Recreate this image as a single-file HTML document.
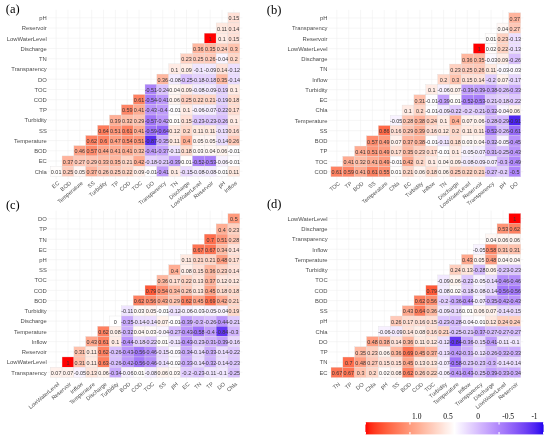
<!DOCTYPE html>
<html><head><meta charset="utf-8"><title>Correlation matrices</title>
<style>
html,body{margin:0;padding:0;background:#fff;}
body{width:550px;height:441px;overflow:hidden;}
svg{display:block;will-change:transform;}
.ct text{font-family:"Liberation Sans",sans-serif;font-size:5.45px;fill:#363636;text-anchor:middle;}
.yl text{font-family:"Liberation Sans",sans-serif;font-size:5.85px;fill:#4d4d4d;text-anchor:end;}
.xl text{font-family:"Liberation Sans",sans-serif;font-size:5.55px;fill:#4d4d4d;text-anchor:end;}
.lt{font-family:"Liberation Serif",serif;font-size:12.5px;fill:#000;}
.lg{font-family:"Liberation Serif",serif;font-size:7.5px;fill:#000;text-anchor:middle;}
</style></head>
<body><svg width="550" height="441" viewBox="0 0 550 441">
<rect width="550" height="441" fill="#fff"/>
<path d="M56.12 9.80V179.28M47.60 17.81H242.40M67.97 9.80V179.28M47.60 28.05H242.40M79.83 9.80V179.28M47.60 38.28H242.40M91.68 9.80V179.28M47.60 48.50H242.40M103.53 9.80V179.28M47.60 58.73H242.40M115.38 9.80V179.28M47.60 68.97H242.40M127.22 9.80V179.28M47.60 79.20H242.40M139.07 9.80V179.28M47.60 89.43H242.40M150.93 9.80V179.28M47.60 99.66H242.40M162.78 9.80V179.28M47.60 109.89H242.40M174.62 9.80V179.28M47.60 120.12H242.40M186.48 9.80V179.28M47.60 130.34H242.40M198.32 9.80V179.28M47.60 140.57H242.40M210.18 9.80V179.28M47.60 150.81H242.40M222.02 9.80V179.28M47.60 161.03H242.40M233.88 9.80V179.28M47.60 171.26H242.40" stroke="#efefef" stroke-width="0.55" fill="none"/>
<g stroke="#dcdcdc" stroke-width="0.3"><rect x="227.95" y="12.70" width="11.85" height="10.23" fill="#ffe0d6"/><rect x="216.10" y="22.93" width="11.85" height="10.23" fill="#ffe9e0"/><rect x="227.95" y="22.93" width="11.85" height="10.23" fill="#ffe2d9"/><rect x="204.25" y="33.16" width="11.85" height="10.23" fill="#ff0000"/><rect x="216.10" y="33.16" width="11.85" height="10.23" fill="#ffebe4"/><rect x="227.95" y="33.16" width="11.85" height="10.23" fill="#ffe0d6"/><rect x="192.40" y="43.39" width="11.85" height="10.23" fill="#ffb79f"/><rect x="204.25" y="43.39" width="11.85" height="10.23" fill="#ffb9a2"/><rect x="216.10" y="43.39" width="11.85" height="10.23" fill="#ffcfbe"/><rect x="227.95" y="43.39" width="11.85" height="10.23" fill="#ffc3ae"/><rect x="180.55" y="53.62" width="11.85" height="10.23" fill="#ffd1c1"/><rect x="192.40" y="53.62" width="11.85" height="10.23" fill="#ffccbc"/><rect x="204.25" y="53.62" width="11.85" height="10.23" fill="#ffcab9"/><rect x="216.10" y="53.62" width="11.85" height="10.23" fill="#faf4ff"/><rect x="227.95" y="53.62" width="11.85" height="10.23" fill="#ffd7c8"/><rect x="168.70" y="63.85" width="11.85" height="10.23" fill="#ffebe4"/><rect x="180.55" y="63.85" width="11.85" height="10.23" fill="#ffede7"/><rect x="192.40" y="63.85" width="11.85" height="10.23" fill="#f0e6ff"/><rect x="204.25" y="63.85" width="11.85" height="10.23" fill="#f2e9ff"/><rect x="216.10" y="63.85" width="11.85" height="10.23" fill="#ffe2d9"/><rect x="227.95" y="63.85" width="11.85" height="10.23" fill="#ede0ff"/><rect x="156.85" y="74.08" width="11.85" height="10.23" fill="#ffb79f"/><rect x="168.70" y="74.08" width="11.85" height="10.23" fill="#f3ebff"/><rect x="180.55" y="74.08" width="11.85" height="10.23" fill="#d9c1fe"/><rect x="192.40" y="74.08" width="11.85" height="10.23" fill="#e5d2fe"/><rect x="204.25" y="74.08" width="11.85" height="10.23" fill="#e5d2fe"/><rect x="216.10" y="74.08" width="11.85" height="10.23" fill="#ffb9a2"/><rect x="227.95" y="74.08" width="11.85" height="10.23" fill="#eadcff"/><rect x="145.00" y="84.31" width="11.85" height="10.23" fill="#ac83fa"/><rect x="156.85" y="84.31" width="11.85" height="10.23" fill="#dbc3fe"/><rect x="168.70" y="84.31" width="11.85" height="10.23" fill="#fff7f4"/><rect x="180.55" y="84.31" width="11.85" height="10.23" fill="#ffede7"/><rect x="192.40" y="84.31" width="11.85" height="10.23" fill="#f3ebff"/><rect x="204.25" y="84.31" width="11.85" height="10.23" fill="#f2e9ff"/><rect x="216.10" y="84.31" width="11.85" height="10.23" fill="#e2d0fe"/><rect x="227.95" y="84.31" width="11.85" height="10.23" fill="#ffebe4"/><rect x="133.15" y="94.54" width="11.85" height="10.23" fill="#ff8262"/><rect x="145.00" y="94.54" width="11.85" height="10.23" fill="#a77cfa"/><rect x="156.85" y="94.54" width="11.85" height="10.23" fill="#bf9bfc"/><rect x="168.70" y="94.54" width="11.85" height="10.23" fill="#fff3ee"/><rect x="180.55" y="94.54" width="11.85" height="10.23" fill="#ffccbc"/><rect x="192.40" y="94.54" width="11.85" height="10.23" fill="#ffd3c3"/><rect x="204.25" y="94.54" width="11.85" height="10.23" fill="#ffd5c6"/><rect x="216.10" y="94.54" width="11.85" height="10.23" fill="#e2d0fe"/><rect x="227.95" y="94.54" width="11.85" height="10.23" fill="#ffdbcd"/><rect x="121.30" y="104.77" width="11.85" height="10.23" fill="#ff8667"/><rect x="133.15" y="104.77" width="11.85" height="10.23" fill="#ffac92"/><rect x="145.00" y="104.77" width="11.85" height="10.23" fill="#bb95fc"/><rect x="156.85" y="104.77" width="11.85" height="10.23" fill="#c09dfc"/><rect x="168.70" y="104.77" width="11.85" height="10.23" fill="#fefdff"/><rect x="180.55" y="104.77" width="11.85" height="10.23" fill="#ffebe4"/><rect x="192.40" y="104.77" width="11.85" height="10.23" fill="#f7f0ff"/><rect x="204.25" y="104.77" width="11.85" height="10.23" fill="#f4edff"/><rect x="216.10" y="104.77" width="11.85" height="10.23" fill="#dec8fe"/><rect x="227.95" y="104.77" width="11.85" height="10.23" fill="#ffddd1"/><rect x="109.45" y="115.00" width="11.85" height="10.23" fill="#ffb097"/><rect x="121.30" y="115.00" width="11.85" height="10.23" fill="#ffbfa9"/><rect x="133.15" y="115.00" width="11.85" height="10.23" fill="#ffc4b1"/><rect x="145.00" y="115.00" width="11.85" height="10.23" fill="#a175f9"/><rect x="156.85" y="115.00" width="11.85" height="10.23" fill="#bd98fc"/><rect x="168.70" y="115.00" width="11.85" height="10.23" fill="#fffdfc"/><rect x="180.55" y="115.00" width="11.85" height="10.23" fill="#ffe0d6"/><rect x="192.40" y="115.00" width="11.85" height="10.23" fill="#dcc6fe"/><rect x="204.25" y="115.00" width="11.85" height="10.23" fill="#dcc6fe"/><rect x="216.10" y="115.00" width="11.85" height="10.23" fill="#d8bffe"/><rect x="227.95" y="115.00" width="11.85" height="10.23" fill="#ffebe4"/><rect x="97.60" y="125.23" width="11.85" height="10.23" fill="#ff7c5b"/><rect x="109.45" y="125.23" width="11.85" height="10.23" fill="#ff977a"/><rect x="121.30" y="125.23" width="11.85" height="10.23" fill="#ff8262"/><rect x="133.15" y="125.23" width="11.85" height="10.23" fill="#ffac92"/><rect x="145.00" y="125.23" width="11.85" height="10.23" fill="#9d71f9"/><rect x="156.85" y="125.23" width="11.85" height="10.23" fill="#9265f8"/><rect x="168.70" y="125.23" width="11.85" height="10.23" fill="#ffe7de"/><rect x="180.55" y="125.23" width="11.85" height="10.23" fill="#ffd7c8"/><rect x="192.40" y="125.23" width="11.85" height="10.23" fill="#ffe9e0"/><rect x="204.25" y="125.23" width="11.85" height="10.23" fill="#ffe9e0"/><rect x="216.10" y="125.23" width="11.85" height="10.23" fill="#ecdeff"/><rect x="227.95" y="125.23" width="11.85" height="10.23" fill="#ffded4"/><rect x="85.75" y="135.46" width="11.85" height="10.23" fill="#ff8060"/><rect x="97.60" y="135.46" width="11.85" height="10.23" fill="#ff8464"/><rect x="109.45" y="135.46" width="11.85" height="10.23" fill="#ffa083"/><rect x="121.30" y="135.46" width="11.85" height="10.23" fill="#ff9173"/><rect x="133.15" y="135.46" width="11.85" height="10.23" fill="#ff977a"/><rect x="145.00" y="135.46" width="11.85" height="10.23" fill="#5a2ef2"/><rect x="156.85" y="135.46" width="11.85" height="10.23" fill="#c9a9fd"/><rect x="168.70" y="135.46" width="11.85" height="10.23" fill="#ffe9e0"/><rect x="180.55" y="135.46" width="11.85" height="10.23" fill="#ffae94"/><rect x="192.40" y="135.46" width="11.85" height="10.23" fill="#fff4f1"/><rect x="204.25" y="135.46" width="11.85" height="10.23" fill="#fff4f1"/><rect x="216.10" y="135.46" width="11.85" height="10.23" fill="#eadcff"/><rect x="227.95" y="135.46" width="11.85" height="10.23" fill="#ffcab9"/><rect x="73.90" y="145.69" width="11.85" height="10.23" fill="#ffa286"/><rect x="85.75" y="145.69" width="11.85" height="10.23" fill="#ff8b6c"/><rect x="97.60" y="145.69" width="11.85" height="10.23" fill="#ffa68b"/><rect x="109.45" y="145.69" width="11.85" height="10.23" fill="#ffac92"/><rect x="121.30" y="145.69" width="11.85" height="10.23" fill="#ffac92"/><rect x="133.15" y="145.69" width="11.85" height="10.23" fill="#ffbfa9"/><rect x="145.00" y="145.69" width="11.85" height="10.23" fill="#bf9bfc"/><rect x="156.85" y="145.69" width="11.85" height="10.23" fill="#c5a4fc"/><rect x="168.70" y="145.69" width="11.85" height="10.23" fill="#efe4ff"/><rect x="180.55" y="145.69" width="11.85" height="10.23" fill="#ffdbcd"/><rect x="192.40" y="145.69" width="11.85" height="10.23" fill="#fff9f7"/><rect x="204.25" y="145.69" width="11.85" height="10.23" fill="#fff7f4"/><rect x="216.10" y="145.69" width="11.85" height="10.23" fill="#fff3ee"/><rect x="227.95" y="145.69" width="11.85" height="10.23" fill="#fefdff"/><rect x="62.05" y="155.92" width="11.85" height="10.23" fill="#ffb49d"/><rect x="73.90" y="155.92" width="11.85" height="10.23" fill="#ffc8b7"/><rect x="85.75" y="155.92" width="11.85" height="10.23" fill="#ffc4b1"/><rect x="97.60" y="155.92" width="11.85" height="10.23" fill="#ffbda7"/><rect x="109.45" y="155.92" width="11.85" height="10.23" fill="#ffb9a2"/><rect x="121.30" y="155.92" width="11.85" height="10.23" fill="#ffd5c6"/><rect x="133.15" y="155.92" width="11.85" height="10.23" fill="#ffaa90"/><rect x="145.00" y="155.92" width="11.85" height="10.23" fill="#e5d2fe"/><rect x="156.85" y="155.92" width="11.85" height="10.23" fill="#dfcafe"/><rect x="168.70" y="155.92" width="11.85" height="10.23" fill="#c2a0fc"/><rect x="180.55" y="155.92" width="11.85" height="10.23" fill="#fffdfc"/><rect x="192.40" y="155.92" width="11.85" height="10.23" fill="#aa81fa"/><rect x="204.25" y="155.92" width="11.85" height="10.23" fill="#a97ffa"/><rect x="216.10" y="155.92" width="11.85" height="10.23" fill="#f7f0ff"/><rect x="227.95" y="155.92" width="11.85" height="10.23" fill="#fefdff"/><rect x="50.20" y="166.15" width="11.85" height="10.23" fill="#fffdfc"/><rect x="62.05" y="166.15" width="11.85" height="10.23" fill="#ffccbc"/><rect x="73.90" y="166.15" width="11.85" height="10.23" fill="#fff4f1"/><rect x="85.75" y="166.15" width="11.85" height="10.23" fill="#ffb49d"/><rect x="97.60" y="166.15" width="11.85" height="10.23" fill="#ffcab9"/><rect x="109.45" y="166.15" width="11.85" height="10.23" fill="#ffccbc"/><rect x="121.30" y="166.15" width="11.85" height="10.23" fill="#ffd3c3"/><rect x="133.15" y="166.15" width="11.85" height="10.23" fill="#ffede7"/><rect x="145.00" y="166.15" width="11.85" height="10.23" fill="#fefdff"/><rect x="156.85" y="166.15" width="11.85" height="10.23" fill="#bf9bfc"/><rect x="168.70" y="166.15" width="11.85" height="10.23" fill="#ffebe4"/><rect x="180.55" y="166.15" width="11.85" height="10.23" fill="#e9d9fe"/><rect x="192.40" y="166.15" width="11.85" height="10.23" fill="#f3ebff"/><rect x="204.25" y="166.15" width="11.85" height="10.23" fill="#f3ebff"/><rect x="216.10" y="166.15" width="11.85" height="10.23" fill="#fefdff"/><rect x="227.95" y="166.15" width="11.85" height="10.23" fill="#ffe9e0"/></g>
<g class="ct"><text transform="translate(233.88 20.41) scale(1 0.950)">0.15</text><text transform="translate(222.03 30.65) scale(1 0.950)">0.11</text><text transform="translate(233.88 30.65) scale(1 0.950)">0.14</text><text transform="translate(210.18 40.88) scale(1 0.950)">1</text><text transform="translate(222.03 40.88) scale(1 0.950)">0.1</text><text transform="translate(233.88 40.88) scale(1 0.950)">0.15</text><text transform="translate(198.32 51.11) scale(1 0.950)">0.36</text><text transform="translate(210.18 51.11) scale(1 0.950)">0.35</text><text transform="translate(222.03 51.11) scale(1 0.950)">0.24</text><text transform="translate(233.88 51.11) scale(1 0.950)">0.3</text><text transform="translate(186.48 61.34) scale(1 0.950)">0.23</text><text transform="translate(198.32 61.34) scale(1 0.950)">0.25</text><text transform="translate(210.18 61.34) scale(1 0.950)">0.26</text><text transform="translate(222.03 61.34) scale(1 0.950)">-0.04</text><text transform="translate(233.88 61.34) scale(1 0.950)">0.2</text><text transform="translate(174.62 71.56) scale(1 0.950)">0.1</text><text transform="translate(186.48 71.56) scale(1 0.950)">0.09</text><text transform="translate(198.32 71.56) scale(1 0.950)">-0.1</text><text transform="translate(210.18 71.56) scale(1 0.950)">-0.09</text><text transform="translate(222.03 71.56) scale(1 0.950)">0.14</text><text transform="translate(233.88 71.56) scale(1 0.950)">-0.12</text><text transform="translate(162.78 81.79) scale(1 0.950)">0.36</text><text transform="translate(174.62 81.79) scale(1 0.950)">-0.08</text><text transform="translate(186.48 81.79) scale(1 0.950)">-0.25</text><text transform="translate(198.32 81.79) scale(1 0.950)">-0.18</text><text transform="translate(210.18 81.79) scale(1 0.950)">-0.18</text><text transform="translate(222.03 81.79) scale(1 0.950)">0.35</text><text transform="translate(233.88 81.79) scale(1 0.950)">-0.14</text><text transform="translate(150.93 92.02) scale(1 0.950)">-0.51</text><text transform="translate(162.78 92.02) scale(1 0.950)">-0.24</text><text transform="translate(174.62 92.02) scale(1 0.950)">0.04</text><text transform="translate(186.48 92.02) scale(1 0.950)">0.09</text><text transform="translate(198.32 92.02) scale(1 0.950)">-0.08</text><text transform="translate(210.18 92.02) scale(1 0.950)">-0.09</text><text transform="translate(222.03 92.02) scale(1 0.950)">-0.19</text><text transform="translate(233.88 92.02) scale(1 0.950)">0.1</text><text transform="translate(139.08 102.25) scale(1 0.950)">0.61</text><text transform="translate(150.93 102.25) scale(1 0.950)">-0.54</text><text transform="translate(162.78 102.25) scale(1 0.950)">-0.41</text><text transform="translate(174.62 102.25) scale(1 0.950)">0.06</text><text transform="translate(186.48 102.25) scale(1 0.950)">0.25</text><text transform="translate(198.32 102.25) scale(1 0.950)">0.22</text><text transform="translate(210.18 102.25) scale(1 0.950)">0.21</text><text transform="translate(222.03 102.25) scale(1 0.950)">-0.19</text><text transform="translate(233.88 102.25) scale(1 0.950)">0.18</text><text transform="translate(127.22 112.48) scale(1 0.950)">0.59</text><text transform="translate(139.08 112.48) scale(1 0.950)">0.41</text><text transform="translate(150.93 112.48) scale(1 0.950)">-0.43</text><text transform="translate(162.78 112.48) scale(1 0.950)">-0.4</text><text transform="translate(174.62 112.48) scale(1 0.950)">-0.01</text><text transform="translate(186.48 112.48) scale(1 0.950)">0.1</text><text transform="translate(198.32 112.48) scale(1 0.950)">-0.06</text><text transform="translate(210.18 112.48) scale(1 0.950)">-0.07</text><text transform="translate(222.03 112.48) scale(1 0.950)">-0.22</text><text transform="translate(233.88 112.48) scale(1 0.950)">0.17</text><text transform="translate(115.38 122.72) scale(1 0.950)">0.39</text><text transform="translate(127.22 122.72) scale(1 0.950)">0.32</text><text transform="translate(139.08 122.72) scale(1 0.950)">0.29</text><text transform="translate(150.93 122.72) scale(1 0.950)">-0.57</text><text transform="translate(162.78 122.72) scale(1 0.950)">-0.42</text><text transform="translate(174.62 122.72) scale(1 0.950)">0.01</text><text transform="translate(186.48 122.72) scale(1 0.950)">0.15</text><text transform="translate(198.32 122.72) scale(1 0.950)">-0.23</text><text transform="translate(210.18 122.72) scale(1 0.950)">-0.23</text><text transform="translate(222.03 122.72) scale(1 0.950)">-0.26</text><text transform="translate(233.88 122.72) scale(1 0.950)">0.1</text><text transform="translate(103.52 132.94) scale(1 0.950)">0.64</text><text transform="translate(115.38 132.94) scale(1 0.950)">0.51</text><text transform="translate(127.22 132.94) scale(1 0.950)">0.61</text><text transform="translate(139.08 132.94) scale(1 0.950)">0.41</text><text transform="translate(150.93 132.94) scale(1 0.950)">-0.59</text><text transform="translate(162.78 132.94) scale(1 0.950)">-0.64</text><text transform="translate(174.62 132.94) scale(1 0.950)">0.12</text><text transform="translate(186.48 132.94) scale(1 0.950)">0.2</text><text transform="translate(198.32 132.94) scale(1 0.950)">0.11</text><text transform="translate(210.18 132.94) scale(1 0.950)">0.11</text><text transform="translate(222.03 132.94) scale(1 0.950)">-0.13</text><text transform="translate(233.88 132.94) scale(1 0.950)">0.16</text><text transform="translate(91.67 143.18) scale(1 0.950)">0.62</text><text transform="translate(103.52 143.18) scale(1 0.950)">0.6</text><text transform="translate(115.38 143.18) scale(1 0.950)">0.47</text><text transform="translate(127.22 143.18) scale(1 0.950)">0.54</text><text transform="translate(139.08 143.18) scale(1 0.950)">0.51</text><text transform="translate(150.93 143.18) scale(1 0.950)">-0.87</text><text transform="translate(162.78 143.18) scale(1 0.950)">-0.35</text><text transform="translate(174.62 143.18) scale(1 0.950)">0.11</text><text transform="translate(186.48 143.18) scale(1 0.950)">0.4</text><text transform="translate(198.32 143.18) scale(1 0.950)">0.05</text><text transform="translate(210.18 143.18) scale(1 0.950)">0.05</text><text transform="translate(222.03 143.18) scale(1 0.950)">-0.14</text><text transform="translate(233.88 143.18) scale(1 0.950)">0.26</text><text transform="translate(79.83 153.41) scale(1 0.950)">0.46</text><text transform="translate(91.67 153.41) scale(1 0.950)">0.57</text><text transform="translate(103.52 153.41) scale(1 0.950)">0.44</text><text transform="translate(115.38 153.41) scale(1 0.950)">0.41</text><text transform="translate(127.22 153.41) scale(1 0.950)">0.41</text><text transform="translate(139.08 153.41) scale(1 0.950)">0.32</text><text transform="translate(150.93 153.41) scale(1 0.950)">-0.41</text><text transform="translate(162.78 153.41) scale(1 0.950)">-0.37</text><text transform="translate(174.62 153.41) scale(1 0.950)">-0.11</text><text transform="translate(186.48 153.41) scale(1 0.950)">0.18</text><text transform="translate(198.32 153.41) scale(1 0.950)">0.03</text><text transform="translate(210.18 153.41) scale(1 0.950)">0.04</text><text transform="translate(222.03 153.41) scale(1 0.950)">0.06</text><text transform="translate(233.88 153.41) scale(1 0.950)">-0.01</text><text transform="translate(67.98 163.63) scale(1 0.950)">0.37</text><text transform="translate(79.83 163.63) scale(1 0.950)">0.27</text><text transform="translate(91.67 163.63) scale(1 0.950)">0.29</text><text transform="translate(103.52 163.63) scale(1 0.950)">0.33</text><text transform="translate(115.38 163.63) scale(1 0.950)">0.35</text><text transform="translate(127.22 163.63) scale(1 0.950)">0.21</text><text transform="translate(139.08 163.63) scale(1 0.950)">0.42</text><text transform="translate(150.93 163.63) scale(1 0.950)">-0.18</text><text transform="translate(162.78 163.63) scale(1 0.950)">-0.21</text><text transform="translate(174.62 163.63) scale(1 0.950)">-0.39</text><text transform="translate(186.48 163.63) scale(1 0.950)">0.01</text><text transform="translate(198.32 163.63) scale(1 0.950)">-0.52</text><text transform="translate(210.18 163.63) scale(1 0.950)">-0.53</text><text transform="translate(222.03 163.63) scale(1 0.950)">-0.06</text><text transform="translate(233.88 163.63) scale(1 0.950)">-0.01</text><text transform="translate(56.12 173.87) scale(1 0.950)">0.01</text><text transform="translate(67.98 173.87) scale(1 0.950)">0.25</text><text transform="translate(79.83 173.87) scale(1 0.950)">0.05</text><text transform="translate(91.67 173.87) scale(1 0.950)">0.37</text><text transform="translate(103.52 173.87) scale(1 0.950)">0.26</text><text transform="translate(115.38 173.87) scale(1 0.950)">0.25</text><text transform="translate(127.22 173.87) scale(1 0.950)">0.22</text><text transform="translate(139.08 173.87) scale(1 0.950)">0.09</text><text transform="translate(150.93 173.87) scale(1 0.950)">-0.01</text><text transform="translate(162.78 173.87) scale(1 0.950)">-0.41</text><text transform="translate(174.62 173.87) scale(1 0.950)">0.1</text><text transform="translate(186.48 173.87) scale(1 0.950)">-0.15</text><text transform="translate(198.32 173.87) scale(1 0.950)">-0.08</text><text transform="translate(210.18 173.87) scale(1 0.950)">-0.08</text><text transform="translate(222.03 173.87) scale(1 0.950)">-0.01</text><text transform="translate(233.88 173.87) scale(1 0.950)">0.11</text></g>
<g class="yl"><text transform="translate(46.80 20.11) scale(1 1.000)">pH</text><text transform="translate(46.80 30.35) scale(1 1.000)">Reservoir</text><text transform="translate(46.80 40.58) scale(1 1.000)">LowWaterLevel</text><text transform="translate(46.80 50.80) scale(1 1.000)">Discharge</text><text transform="translate(46.80 61.03) scale(1 1.000)">TN</text><text transform="translate(46.80 71.27) scale(1 1.000)">Transparency</text><text transform="translate(46.80 81.50) scale(1 1.000)">DO</text><text transform="translate(46.80 91.73) scale(1 1.000)">TOC</text><text transform="translate(46.80 101.95) scale(1 1.000)">COD</text><text transform="translate(46.80 112.19) scale(1 1.000)">TP</text><text transform="translate(46.80 122.42) scale(1 1.000)">Turbidity</text><text transform="translate(46.80 132.65) scale(1 1.000)">SS</text><text transform="translate(46.80 142.88) scale(1 1.000)">Temperature</text><text transform="translate(46.80 153.11) scale(1 1.000)">BOD</text><text transform="translate(46.80 163.34) scale(1 1.000)">EC</text><text transform="translate(46.80 173.56) scale(1 1.000)">Chla</text></g>
<g class="xl"><text transform="translate(59.73 183.68) rotate(-40.0)">EC</text><text transform="translate(71.57 183.68) rotate(-40.0)">BOD</text><text transform="translate(83.42 183.68) rotate(-40.0)">Temperature</text><text transform="translate(95.28 183.68) rotate(-40.0)">SS</text><text transform="translate(107.12 183.68) rotate(-40.0)">Turbidity</text><text transform="translate(118.97 183.68) rotate(-40.0)">TP</text><text transform="translate(130.82 183.68) rotate(-40.0)">COD</text><text transform="translate(142.67 183.68) rotate(-40.0)">TOC</text><text transform="translate(154.53 183.68) rotate(-40.0)">DO</text><text transform="translate(166.38 183.68) rotate(-40.0)">Transparency</text><text transform="translate(178.22 183.68) rotate(-40.0)">TN</text><text transform="translate(190.08 183.68) rotate(-40.0)">Discharge</text><text transform="translate(201.92 183.68) rotate(-40.0)">LowWaterLevel</text><text transform="translate(213.78 183.68) rotate(-40.0)">Reservoir</text><text transform="translate(225.62 183.68) rotate(-40.0)">pH</text><text transform="translate(237.47 183.68) rotate(-40.0)">Inflow</text></g>
<text class="lt" x="5.80" y="13.30">(a)</text>
<path d="M336.83 9.90V179.70M328.30 17.93H523.26M348.69 9.90V179.70M328.30 28.18H523.26M360.55 9.90V179.70M328.30 38.42H523.26M372.41 9.90V179.70M328.30 48.67H523.26M384.27 9.90V179.70M328.30 58.92H523.26M396.13 9.90V179.70M328.30 69.17H523.26M407.99 9.90V179.70M328.30 79.42H523.26M419.85 9.90V179.70M328.30 89.67H523.26M431.71 9.90V179.70M328.30 99.92H523.26M443.57 9.90V179.70M328.30 110.17H523.26M455.43 9.90V179.70M328.30 120.42H523.26M467.29 9.90V179.70M328.30 130.68H523.26M479.15 9.90V179.70M328.30 140.93H523.26M491.01 9.90V179.70M328.30 151.18H523.26M502.87 9.90V179.70M328.30 161.43H523.26M514.73 9.90V179.70M328.30 171.68H523.26" stroke="#efefef" stroke-width="0.55" fill="none"/>
<g stroke="#dcdcdc" stroke-width="0.3"><rect x="508.80" y="12.80" width="11.86" height="10.25" fill="#ffb49d"/><rect x="496.94" y="23.05" width="11.86" height="10.25" fill="#fff7f4"/><rect x="508.80" y="23.05" width="11.86" height="10.25" fill="#ffc8b7"/><rect x="485.08" y="33.30" width="11.86" height="10.25" fill="#fffdfc"/><rect x="496.94" y="33.30" width="11.86" height="10.25" fill="#ffd1c1"/><rect x="508.80" y="33.30" width="11.86" height="10.25" fill="#ecdeff"/><rect x="473.22" y="43.55" width="11.86" height="10.25" fill="#ff0000"/><rect x="485.08" y="43.55" width="11.86" height="10.25" fill="#fffbfa"/><rect x="496.94" y="43.55" width="11.86" height="10.25" fill="#ffd3c3"/><rect x="508.80" y="43.55" width="11.86" height="10.25" fill="#ecdeff"/><rect x="461.36" y="53.80" width="11.86" height="10.25" fill="#ffb79f"/><rect x="473.22" y="53.80" width="11.86" height="10.25" fill="#ffb9a2"/><rect x="485.08" y="53.80" width="11.86" height="10.25" fill="#fbf8ff"/><rect x="496.94" y="53.80" width="11.86" height="10.25" fill="#ffede7"/><rect x="508.80" y="53.80" width="11.86" height="10.25" fill="#d8bffe"/><rect x="449.50" y="64.05" width="11.86" height="10.25" fill="#ffd1c1"/><rect x="461.36" y="64.05" width="11.86" height="10.25" fill="#ffccbc"/><rect x="473.22" y="64.05" width="11.86" height="10.25" fill="#ffcab9"/><rect x="485.08" y="64.05" width="11.86" height="10.25" fill="#ffe9e0"/><rect x="496.94" y="64.05" width="11.86" height="10.25" fill="#fbf8ff"/><rect x="508.80" y="64.05" width="11.86" height="10.25" fill="#fbf8ff"/><rect x="437.64" y="74.30" width="11.86" height="10.25" fill="#ffd7c8"/><rect x="449.50" y="74.30" width="11.86" height="10.25" fill="#ffc3ae"/><rect x="461.36" y="74.30" width="11.86" height="10.25" fill="#ffe0d6"/><rect x="473.22" y="74.30" width="11.86" height="10.25" fill="#ffe2d9"/><rect x="485.08" y="74.30" width="11.86" height="10.25" fill="#e1cdfe"/><rect x="496.94" y="74.30" width="11.86" height="10.25" fill="#fff1ec"/><rect x="508.80" y="74.30" width="11.86" height="10.25" fill="#e6d5fe"/><rect x="425.78" y="84.55" width="11.86" height="10.25" fill="#ffebe4"/><rect x="437.64" y="84.55" width="11.86" height="10.25" fill="#f7f0ff"/><rect x="449.50" y="84.55" width="11.86" height="10.25" fill="#fff1ec"/><rect x="461.36" y="84.55" width="11.86" height="10.25" fill="#c2a0fc"/><rect x="473.22" y="84.55" width="11.86" height="10.25" fill="#c2a0fc"/><rect x="485.08" y="84.55" width="11.86" height="10.25" fill="#c4a2fc"/><rect x="496.94" y="84.55" width="11.86" height="10.25" fill="#d8bffe"/><rect x="508.80" y="84.55" width="11.86" height="10.25" fill="#ccadfd"/><rect x="413.92" y="94.80" width="11.86" height="10.25" fill="#ffc1ac"/><rect x="425.78" y="94.80" width="11.86" height="10.25" fill="#fefdff"/><rect x="437.64" y="94.80" width="11.86" height="10.25" fill="#c2a0fc"/><rect x="449.50" y="94.80" width="11.86" height="10.25" fill="#fffdfc"/><rect x="461.36" y="94.80" width="11.86" height="10.25" fill="#aa81fa"/><rect x="473.22" y="94.80" width="11.86" height="10.25" fill="#a97ffa"/><rect x="485.08" y="94.80" width="11.86" height="10.25" fill="#dfcafe"/><rect x="496.94" y="94.80" width="11.86" height="10.25" fill="#e5d2fe"/><rect x="508.80" y="94.80" width="11.86" height="10.25" fill="#dec8fe"/><rect x="402.06" y="105.05" width="11.86" height="10.25" fill="#ffebe4"/><rect x="413.92" y="105.05" width="11.86" height="10.25" fill="#ffd7c8"/><rect x="425.78" y="105.05" width="11.86" height="10.25" fill="#fefdff"/><rect x="437.64" y="105.05" width="11.86" height="10.25" fill="#f2e9ff"/><rect x="449.50" y="105.05" width="11.86" height="10.25" fill="#dec8fe"/><rect x="461.36" y="105.05" width="11.86" height="10.25" fill="#e1cdfe"/><rect x="473.22" y="105.05" width="11.86" height="10.25" fill="#dfcafe"/><rect x="485.08" y="105.05" width="11.86" height="10.25" fill="#cdb0fd"/><rect x="496.94" y="105.05" width="11.86" height="10.25" fill="#faf4ff"/><rect x="508.80" y="105.05" width="11.86" height="10.25" fill="#fff3ee"/><rect x="390.20" y="115.30" width="11.86" height="10.25" fill="#f8f2ff"/><rect x="402.06" y="115.30" width="11.86" height="10.25" fill="#ffc6b3"/><rect x="413.92" y="115.30" width="11.86" height="10.25" fill="#ffb29a"/><rect x="425.78" y="115.30" width="11.86" height="10.25" fill="#ffcfbe"/><rect x="437.64" y="115.30" width="11.86" height="10.25" fill="#ffebe4"/><rect x="449.50" y="115.30" width="11.86" height="10.25" fill="#ffae94"/><rect x="461.36" y="115.30" width="11.86" height="10.25" fill="#fff1ec"/><rect x="473.22" y="115.30" width="11.86" height="10.25" fill="#fff3ee"/><rect x="485.08" y="115.30" width="11.86" height="10.25" fill="#d5bafd"/><rect x="496.94" y="115.30" width="11.86" height="10.25" fill="#d3b8fd"/><rect x="508.80" y="115.30" width="11.86" height="10.25" fill="#4d23f1"/><rect x="378.34" y="125.55" width="11.86" height="10.25" fill="#ff6a48"/><rect x="390.20" y="125.55" width="11.86" height="10.25" fill="#ffded4"/><rect x="402.06" y="125.55" width="11.86" height="10.25" fill="#ffc4b1"/><rect x="413.92" y="125.55" width="11.86" height="10.25" fill="#ffb097"/><rect x="425.78" y="125.55" width="11.86" height="10.25" fill="#ffded4"/><rect x="437.64" y="125.55" width="11.86" height="10.25" fill="#ffe7de"/><rect x="449.50" y="125.55" width="11.86" height="10.25" fill="#ffd7c8"/><rect x="461.36" y="125.55" width="11.86" height="10.25" fill="#ffe9e0"/><rect x="473.22" y="125.55" width="11.86" height="10.25" fill="#ffe9e0"/><rect x="485.08" y="125.55" width="11.86" height="10.25" fill="#aa81fa"/><rect x="496.94" y="125.55" width="11.86" height="10.25" fill="#d8bffe"/><rect x="508.80" y="125.55" width="11.86" height="10.25" fill="#986cf9"/><rect x="366.48" y="135.80" width="11.86" height="10.25" fill="#ff8b6c"/><rect x="378.34" y="135.80" width="11.86" height="10.25" fill="#ff9c7f"/><rect x="390.20" y="135.80" width="11.86" height="10.25" fill="#fff1ec"/><rect x="402.06" y="135.80" width="11.86" height="10.25" fill="#ffb49d"/><rect x="413.92" y="135.80" width="11.86" height="10.25" fill="#ffb29a"/><rect x="425.78" y="135.80" width="11.86" height="10.25" fill="#fefdff"/><rect x="437.64" y="135.80" width="11.86" height="10.25" fill="#efe4ff"/><rect x="449.50" y="135.80" width="11.86" height="10.25" fill="#ffdbcd"/><rect x="461.36" y="135.80" width="11.86" height="10.25" fill="#fff9f7"/><rect x="473.22" y="135.80" width="11.86" height="10.25" fill="#fff7f4"/><rect x="485.08" y="135.80" width="11.86" height="10.25" fill="#cdb0fd"/><rect x="496.94" y="135.80" width="11.86" height="10.25" fill="#f8f2ff"/><rect x="508.80" y="135.80" width="11.86" height="10.25" fill="#b891fb"/><rect x="354.62" y="146.05" width="11.86" height="10.25" fill="#ffac92"/><rect x="366.48" y="146.05" width="11.86" height="10.25" fill="#ff977a"/><rect x="378.34" y="146.05" width="11.86" height="10.25" fill="#ff9c7f"/><rect x="390.20" y="146.05" width="11.86" height="10.25" fill="#ffddd1"/><rect x="402.06" y="146.05" width="11.86" height="10.25" fill="#ffb9a2"/><rect x="413.92" y="146.05" width="11.86" height="10.25" fill="#ffd1c1"/><rect x="425.78" y="146.05" width="11.86" height="10.25" fill="#ffddd1"/><rect x="437.64" y="146.05" width="11.86" height="10.25" fill="#fefdff"/><rect x="449.50" y="146.05" width="11.86" height="10.25" fill="#ffebe4"/><rect x="461.36" y="146.05" width="11.86" height="10.25" fill="#f8f2ff"/><rect x="473.22" y="146.05" width="11.86" height="10.25" fill="#f4edff"/><rect x="485.08" y="146.05" width="11.86" height="10.25" fill="#d0b2fd"/><rect x="496.94" y="146.05" width="11.86" height="10.25" fill="#d9c1fe"/><rect x="508.80" y="146.05" width="11.86" height="10.25" fill="#bb95fc"/><rect x="342.76" y="156.30" width="11.86" height="10.25" fill="#ffac92"/><rect x="354.62" y="156.30" width="11.86" height="10.25" fill="#ffbfa9"/><rect x="366.48" y="156.30" width="11.86" height="10.25" fill="#ffac92"/><rect x="378.34" y="156.30" width="11.86" height="10.25" fill="#ff9c7f"/><rect x="390.20" y="156.30" width="11.86" height="10.25" fill="#fefdff"/><rect x="402.06" y="156.30" width="11.86" height="10.25" fill="#ffaa90"/><rect x="413.92" y="156.30" width="11.86" height="10.25" fill="#ffd7c8"/><rect x="425.78" y="156.30" width="11.86" height="10.25" fill="#ffebe4"/><rect x="437.64" y="156.30" width="11.86" height="10.25" fill="#fff7f4"/><rect x="449.50" y="156.30" width="11.86" height="10.25" fill="#ffede7"/><rect x="461.36" y="156.30" width="11.86" height="10.25" fill="#f3ebff"/><rect x="473.22" y="156.30" width="11.86" height="10.25" fill="#f2e9ff"/><rect x="485.08" y="156.30" width="11.86" height="10.25" fill="#f4edff"/><rect x="496.94" y="156.30" width="11.86" height="10.25" fill="#d1b4fd"/><rect x="508.80" y="156.30" width="11.86" height="10.25" fill="#b088fb"/><rect x="330.90" y="166.55" width="11.86" height="10.25" fill="#ff8262"/><rect x="342.76" y="166.55" width="11.86" height="10.25" fill="#ff8667"/><rect x="354.62" y="166.55" width="11.86" height="10.25" fill="#ffac92"/><rect x="366.48" y="166.55" width="11.86" height="10.25" fill="#ff8262"/><rect x="378.34" y="166.55" width="11.86" height="10.25" fill="#ff8f70"/><rect x="390.20" y="166.55" width="11.86" height="10.25" fill="#fffdfc"/><rect x="402.06" y="166.55" width="11.86" height="10.25" fill="#ffd5c6"/><rect x="413.92" y="166.55" width="11.86" height="10.25" fill="#fff3ee"/><rect x="425.78" y="166.55" width="11.86" height="10.25" fill="#ffdbcd"/><rect x="437.64" y="166.55" width="11.86" height="10.25" fill="#fff3ee"/><rect x="449.50" y="166.55" width="11.86" height="10.25" fill="#ffccbc"/><rect x="461.36" y="166.55" width="11.86" height="10.25" fill="#ffd3c3"/><rect x="473.22" y="166.55" width="11.86" height="10.25" fill="#ffd5c6"/><rect x="485.08" y="166.55" width="11.86" height="10.25" fill="#d6bcfe"/><rect x="496.94" y="166.55" width="11.86" height="10.25" fill="#e1cdfe"/><rect x="508.80" y="166.55" width="11.86" height="10.25" fill="#ae85fb"/></g>
<g class="ct"><text transform="translate(514.73 20.53) scale(1 0.950)">0.37</text><text transform="translate(502.87 30.78) scale(1 0.950)">0.04</text><text transform="translate(514.73 30.78) scale(1 0.950)">0.27</text><text transform="translate(491.01 41.02) scale(1 0.950)">0.01</text><text transform="translate(502.87 41.02) scale(1 0.950)">0.23</text><text transform="translate(514.73 41.02) scale(1 0.950)">-0.13</text><text transform="translate(479.15 51.27) scale(1 0.950)">1</text><text transform="translate(491.01 51.27) scale(1 0.950)">0.02</text><text transform="translate(502.87 51.27) scale(1 0.950)">0.22</text><text transform="translate(514.73 51.27) scale(1 0.950)">-0.13</text><text transform="translate(467.29 61.52) scale(1 0.950)">0.36</text><text transform="translate(479.15 61.52) scale(1 0.950)">0.35</text><text transform="translate(491.01 61.52) scale(1 0.950)">-0.03</text><text transform="translate(502.87 61.52) scale(1 0.950)">0.09</text><text transform="translate(514.73 61.52) scale(1 0.950)">-0.26</text><text transform="translate(455.43 71.77) scale(1 0.950)">0.23</text><text transform="translate(467.29 71.77) scale(1 0.950)">0.25</text><text transform="translate(479.15 71.77) scale(1 0.950)">0.26</text><text transform="translate(491.01 71.77) scale(1 0.950)">0.11</text><text transform="translate(502.87 71.77) scale(1 0.950)">-0.03</text><text transform="translate(514.73 71.77) scale(1 0.950)">-0.03</text><text transform="translate(443.57 82.02) scale(1 0.950)">0.2</text><text transform="translate(455.43 82.02) scale(1 0.950)">0.3</text><text transform="translate(467.29 82.02) scale(1 0.950)">0.15</text><text transform="translate(479.15 82.02) scale(1 0.950)">0.14</text><text transform="translate(491.01 82.02) scale(1 0.950)">-0.2</text><text transform="translate(502.87 82.02) scale(1 0.950)">0.07</text><text transform="translate(514.73 82.02) scale(1 0.950)">-0.17</text><text transform="translate(431.71 92.27) scale(1 0.950)">0.1</text><text transform="translate(443.57 92.27) scale(1 0.950)">-0.06</text><text transform="translate(455.43 92.27) scale(1 0.950)">0.07</text><text transform="translate(467.29 92.27) scale(1 0.950)">-0.39</text><text transform="translate(479.15 92.27) scale(1 0.950)">-0.39</text><text transform="translate(491.01 92.27) scale(1 0.950)">-0.38</text><text transform="translate(502.87 92.27) scale(1 0.950)">-0.26</text><text transform="translate(514.73 92.27) scale(1 0.950)">-0.33</text><text transform="translate(419.85 102.52) scale(1 0.950)">0.31</text><text transform="translate(431.71 102.52) scale(1 0.950)">-0.01</text><text transform="translate(443.57 102.52) scale(1 0.950)">-0.39</text><text transform="translate(455.43 102.52) scale(1 0.950)">0.01</text><text transform="translate(467.29 102.52) scale(1 0.950)">-0.52</text><text transform="translate(479.15 102.52) scale(1 0.950)">-0.53</text><text transform="translate(491.01 102.52) scale(1 0.950)">-0.21</text><text transform="translate(502.87 102.52) scale(1 0.950)">-0.18</text><text transform="translate(514.73 102.52) scale(1 0.950)">-0.22</text><text transform="translate(407.99 112.77) scale(1 0.950)">0.1</text><text transform="translate(419.85 112.77) scale(1 0.950)">0.2</text><text transform="translate(431.71 112.77) scale(1 0.950)">-0.01</text><text transform="translate(443.57 112.77) scale(1 0.950)">-0.09</text><text transform="translate(455.43 112.77) scale(1 0.950)">-0.22</text><text transform="translate(467.29 112.77) scale(1 0.950)">-0.2</text><text transform="translate(479.15 112.77) scale(1 0.950)">-0.21</text><text transform="translate(491.01 112.77) scale(1 0.950)">-0.32</text><text transform="translate(502.87 112.77) scale(1 0.950)">-0.04</text><text transform="translate(514.73 112.77) scale(1 0.950)">0.06</text><text transform="translate(396.13 123.02) scale(1 0.950)">-0.05</text><text transform="translate(407.99 123.02) scale(1 0.950)">0.28</text><text transform="translate(419.85 123.02) scale(1 0.950)">0.38</text><text transform="translate(431.71 123.02) scale(1 0.950)">0.24</text><text transform="translate(443.57 123.02) scale(1 0.950)">0.1</text><text transform="translate(455.43 123.02) scale(1 0.950)">0.4</text><text transform="translate(467.29 123.02) scale(1 0.950)">0.07</text><text transform="translate(479.15 123.02) scale(1 0.950)">0.06</text><text transform="translate(491.01 123.02) scale(1 0.950)">-0.28</text><text transform="translate(502.87 123.02) scale(1 0.950)">-0.29</text><text transform="translate(514.73 123.02) scale(1 0.950)">-0.91</text><text transform="translate(384.27 133.28) scale(1 0.950)">0.86</text><text transform="translate(396.13 133.28) scale(1 0.950)">0.16</text><text transform="translate(407.99 133.28) scale(1 0.950)">0.29</text><text transform="translate(419.85 133.28) scale(1 0.950)">0.39</text><text transform="translate(431.71 133.28) scale(1 0.950)">0.16</text><text transform="translate(443.57 133.28) scale(1 0.950)">0.12</text><text transform="translate(455.43 133.28) scale(1 0.950)">0.2</text><text transform="translate(467.29 133.28) scale(1 0.950)">0.11</text><text transform="translate(479.15 133.28) scale(1 0.950)">0.11</text><text transform="translate(491.01 133.28) scale(1 0.950)">-0.52</text><text transform="translate(502.87 133.28) scale(1 0.950)">-0.26</text><text transform="translate(514.73 133.28) scale(1 0.950)">-0.61</text><text transform="translate(372.41 143.53) scale(1 0.950)">0.57</text><text transform="translate(384.27 143.53) scale(1 0.950)">0.49</text><text transform="translate(396.13 143.53) scale(1 0.950)">0.07</text><text transform="translate(407.99 143.53) scale(1 0.950)">0.37</text><text transform="translate(419.85 143.53) scale(1 0.950)">0.38</text><text transform="translate(431.71 143.53) scale(1 0.950)">-0.01</text><text transform="translate(443.57 143.53) scale(1 0.950)">-0.11</text><text transform="translate(455.43 143.53) scale(1 0.950)">0.18</text><text transform="translate(467.29 143.53) scale(1 0.950)">0.03</text><text transform="translate(479.15 143.53) scale(1 0.950)">0.04</text><text transform="translate(491.01 143.53) scale(1 0.950)">-0.32</text><text transform="translate(502.87 143.53) scale(1 0.950)">-0.05</text><text transform="translate(514.73 143.53) scale(1 0.950)">-0.45</text><text transform="translate(360.55 153.78) scale(1 0.950)">0.41</text><text transform="translate(372.41 153.78) scale(1 0.950)">0.51</text><text transform="translate(384.27 153.78) scale(1 0.950)">0.49</text><text transform="translate(396.13 153.78) scale(1 0.950)">0.17</text><text transform="translate(407.99 153.78) scale(1 0.950)">0.35</text><text transform="translate(419.85 153.78) scale(1 0.950)">0.23</text><text transform="translate(431.71 153.78) scale(1 0.950)">0.17</text><text transform="translate(443.57 153.78) scale(1 0.950)">-0.01</text><text transform="translate(455.43 153.78) scale(1 0.950)">0.1</text><text transform="translate(467.29 153.78) scale(1 0.950)">-0.05</text><text transform="translate(479.15 153.78) scale(1 0.950)">-0.07</text><text transform="translate(491.01 153.78) scale(1 0.950)">-0.31</text><text transform="translate(502.87 153.78) scale(1 0.950)">-0.25</text><text transform="translate(514.73 153.78) scale(1 0.950)">-0.43</text><text transform="translate(348.69 164.03) scale(1 0.950)">0.41</text><text transform="translate(360.55 164.03) scale(1 0.950)">0.32</text><text transform="translate(372.41 164.03) scale(1 0.950)">0.41</text><text transform="translate(384.27 164.03) scale(1 0.950)">0.49</text><text transform="translate(396.13 164.03) scale(1 0.950)">-0.01</text><text transform="translate(407.99 164.03) scale(1 0.950)">0.42</text><text transform="translate(419.85 164.03) scale(1 0.950)">0.2</text><text transform="translate(431.71 164.03) scale(1 0.950)">0.1</text><text transform="translate(443.57 164.03) scale(1 0.950)">0.04</text><text transform="translate(455.43 164.03) scale(1 0.950)">0.09</text><text transform="translate(467.29 164.03) scale(1 0.950)">-0.08</text><text transform="translate(479.15 164.03) scale(1 0.950)">-0.09</text><text transform="translate(491.01 164.03) scale(1 0.950)">-0.07</text><text transform="translate(502.87 164.03) scale(1 0.950)">-0.3</text><text transform="translate(514.73 164.03) scale(1 0.950)">-0.49</text><text transform="translate(336.83 174.28) scale(1 0.950)">0.61</text><text transform="translate(348.69 174.28) scale(1 0.950)">0.59</text><text transform="translate(360.55 174.28) scale(1 0.950)">0.41</text><text transform="translate(372.41 174.28) scale(1 0.950)">0.61</text><text transform="translate(384.27 174.28) scale(1 0.950)">0.55</text><text transform="translate(396.13 174.28) scale(1 0.950)">0.01</text><text transform="translate(407.99 174.28) scale(1 0.950)">0.21</text><text transform="translate(419.85 174.28) scale(1 0.950)">0.06</text><text transform="translate(431.71 174.28) scale(1 0.950)">0.18</text><text transform="translate(443.57 174.28) scale(1 0.950)">0.06</text><text transform="translate(455.43 174.28) scale(1 0.950)">0.25</text><text transform="translate(467.29 174.28) scale(1 0.950)">0.22</text><text transform="translate(479.15 174.28) scale(1 0.950)">0.21</text><text transform="translate(491.01 174.28) scale(1 0.950)">-0.27</text><text transform="translate(502.87 174.28) scale(1 0.950)">-0.2</text><text transform="translate(514.73 174.28) scale(1 0.950)">-0.5</text></g>
<g class="yl"><text transform="translate(327.50 20.23) scale(1 1.000)">pH</text><text transform="translate(327.50 30.48) scale(1 1.000)">Transparency</text><text transform="translate(327.50 40.72) scale(1 1.000)">Reservoir</text><text transform="translate(327.50 50.97) scale(1 1.000)">LowWaterLevel</text><text transform="translate(327.50 61.22) scale(1 1.000)">Discharge</text><text transform="translate(327.50 71.47) scale(1 1.000)">TN</text><text transform="translate(327.50 81.72) scale(1 1.000)">Inflow</text><text transform="translate(327.50 91.97) scale(1 1.000)">Turbidity</text><text transform="translate(327.50 102.22) scale(1 1.000)">EC</text><text transform="translate(327.50 112.47) scale(1 1.000)">Chla</text><text transform="translate(327.50 122.72) scale(1 1.000)">Temperature</text><text transform="translate(327.50 132.98) scale(1 1.000)">SS</text><text transform="translate(327.50 143.23) scale(1 1.000)">BOD</text><text transform="translate(327.50 153.48) scale(1 1.000)">TP</text><text transform="translate(327.50 163.73) scale(1 1.000)">TOC</text><text transform="translate(327.50 173.98) scale(1 1.000)">COD</text></g>
<g class="xl"><text transform="translate(340.43 184.10) rotate(-40.0)">TOC</text><text transform="translate(352.29 184.10) rotate(-40.0)">TP</text><text transform="translate(364.15 184.10) rotate(-40.0)">BOD</text><text transform="translate(376.01 184.10) rotate(-40.0)">SS</text><text transform="translate(387.87 184.10) rotate(-40.0)">Temperature</text><text transform="translate(399.73 184.10) rotate(-40.0)">Chla</text><text transform="translate(411.59 184.10) rotate(-40.0)">EC</text><text transform="translate(423.45 184.10) rotate(-40.0)">Turbidity</text><text transform="translate(435.31 184.10) rotate(-40.0)">Inflow</text><text transform="translate(447.17 184.10) rotate(-40.0)">TN</text><text transform="translate(459.03 184.10) rotate(-40.0)">Discharge</text><text transform="translate(470.89 184.10) rotate(-40.0)">LowWaterLevel</text><text transform="translate(482.75 184.10) rotate(-40.0)">Reservoir</text><text transform="translate(494.61 184.10) rotate(-40.0)">Transparency</text><text transform="translate(506.47 184.10) rotate(-40.0)">pH</text><text transform="translate(518.33 184.10) rotate(-40.0)">DO</text></g>
<text class="lt" x="266.80" y="13.50">(b)</text>
<path d="M56.12 210.70V380.34M47.60 218.72H242.40M67.97 210.70V380.34M47.60 228.96H242.40M79.83 210.70V380.34M47.60 239.20H242.40M91.68 210.70V380.34M47.60 249.44H242.40M103.53 210.70V380.34M47.60 259.68H242.40M115.38 210.70V380.34M47.60 269.92H242.40M127.22 210.70V380.34M47.60 280.16H242.40M139.07 210.70V380.34M47.60 290.40H242.40M150.93 210.70V380.34M47.60 300.64H242.40M162.78 210.70V380.34M47.60 310.88H242.40M174.62 210.70V380.34M47.60 321.12H242.40M186.48 210.70V380.34M47.60 331.36H242.40M198.32 210.70V380.34M47.60 341.60H242.40M210.18 210.70V380.34M47.60 351.84H242.40M222.02 210.70V380.34M47.60 362.08H242.40M233.88 210.70V380.34M47.60 372.32H242.40" stroke="#efefef" stroke-width="0.55" fill="none"/>
<g stroke="#dcdcdc" stroke-width="0.3"><rect x="227.95" y="213.60" width="11.85" height="10.24" fill="#ff9a7c"/><rect x="216.10" y="223.84" width="11.85" height="10.24" fill="#ffae94"/><rect x="227.95" y="223.84" width="11.85" height="10.24" fill="#ffd1c1"/><rect x="204.25" y="234.08" width="11.85" height="10.24" fill="#ff6e4d"/><rect x="216.10" y="234.08" width="11.85" height="10.24" fill="#ff977a"/><rect x="227.95" y="234.08" width="11.85" height="10.24" fill="#ffc6b3"/><rect x="192.40" y="244.32" width="11.85" height="10.24" fill="#ff7554"/><rect x="204.25" y="244.32" width="11.85" height="10.24" fill="#ff7554"/><rect x="216.10" y="244.32" width="11.85" height="10.24" fill="#ffbba4"/><rect x="227.95" y="244.32" width="11.85" height="10.24" fill="#ffe2d9"/><rect x="180.55" y="254.56" width="11.85" height="10.24" fill="#ffe9e0"/><rect x="192.40" y="254.56" width="11.85" height="10.24" fill="#ffd5c6"/><rect x="204.25" y="254.56" width="11.85" height="10.24" fill="#ffd5c6"/><rect x="216.10" y="254.56" width="11.85" height="10.24" fill="#ff9e81"/><rect x="227.95" y="254.56" width="11.85" height="10.24" fill="#ffddd1"/><rect x="168.70" y="264.80" width="11.85" height="10.24" fill="#ffae94"/><rect x="180.55" y="264.80" width="11.85" height="10.24" fill="#ffefe9"/><rect x="192.40" y="264.80" width="11.85" height="10.24" fill="#ffe0d6"/><rect x="204.25" y="264.80" width="11.85" height="10.24" fill="#ffb79f"/><rect x="216.10" y="264.80" width="11.85" height="10.24" fill="#ffd1c1"/><rect x="227.95" y="264.80" width="11.85" height="10.24" fill="#ffe2d9"/><rect x="156.85" y="275.04" width="11.85" height="10.24" fill="#ffb79f"/><rect x="168.70" y="275.04" width="11.85" height="10.24" fill="#ffddd1"/><rect x="180.55" y="275.04" width="11.85" height="10.24" fill="#ffd3c3"/><rect x="192.40" y="275.04" width="11.85" height="10.24" fill="#ffe5db"/><rect x="204.25" y="275.04" width="11.85" height="10.24" fill="#ffb49d"/><rect x="216.10" y="275.04" width="11.85" height="10.24" fill="#ffe7de"/><rect x="227.95" y="275.04" width="11.85" height="10.24" fill="#ffe7de"/><rect x="145.00" y="285.28" width="11.85" height="10.24" fill="#ff5938"/><rect x="156.85" y="285.28" width="11.85" height="10.24" fill="#ff9173"/><rect x="168.70" y="285.28" width="11.85" height="10.24" fill="#ffbba4"/><rect x="180.55" y="285.28" width="11.85" height="10.24" fill="#ffcab9"/><rect x="192.40" y="285.28" width="11.85" height="10.24" fill="#ffe5db"/><rect x="204.25" y="285.28" width="11.85" height="10.24" fill="#ffa488"/><rect x="216.10" y="285.28" width="11.85" height="10.24" fill="#ffdbcd"/><rect x="227.95" y="285.28" width="11.85" height="10.24" fill="#ffdbcd"/><rect x="133.15" y="295.52" width="11.85" height="10.24" fill="#ff8060"/><rect x="145.00" y="295.52" width="11.85" height="10.24" fill="#ff8d6e"/><rect x="156.85" y="295.52" width="11.85" height="10.24" fill="#ffa88d"/><rect x="168.70" y="295.52" width="11.85" height="10.24" fill="#ffc4b1"/><rect x="180.55" y="295.52" width="11.85" height="10.24" fill="#ff8060"/><rect x="192.40" y="295.52" width="11.85" height="10.24" fill="#ffa488"/><rect x="204.25" y="295.52" width="11.85" height="10.24" fill="#ff714f"/><rect x="216.10" y="295.52" width="11.85" height="10.24" fill="#ffaa90"/><rect x="227.95" y="295.52" width="11.85" height="10.24" fill="#ffd5c6"/><rect x="121.30" y="305.76" width="11.85" height="10.24" fill="#efe4ff"/><rect x="133.15" y="305.76" width="11.85" height="10.24" fill="#fff9f7"/><rect x="145.00" y="305.76" width="11.85" height="10.24" fill="#fff4f1"/><rect x="156.85" y="305.76" width="11.85" height="10.24" fill="#fefdff"/><rect x="168.70" y="305.76" width="11.85" height="10.24" fill="#ede0ff"/><rect x="180.55" y="305.76" width="11.85" height="10.24" fill="#f7f0ff"/><rect x="192.40" y="305.76" width="11.85" height="10.24" fill="#fbf8ff"/><rect x="204.25" y="305.76" width="11.85" height="10.24" fill="#f8f2ff"/><rect x="216.10" y="305.76" width="11.85" height="10.24" fill="#faf4ff"/><rect x="227.95" y="305.76" width="11.85" height="10.24" fill="#ffd9cb"/><rect x="109.45" y="316.00" width="11.85" height="10.24" fill="#ffffff"/><rect x="121.30" y="316.00" width="11.85" height="10.24" fill="#c9a9fd"/><rect x="133.15" y="316.00" width="11.85" height="10.24" fill="#eadcff"/><rect x="145.00" y="316.00" width="11.85" height="10.24" fill="#eadcff"/><rect x="156.85" y="316.00" width="11.85" height="10.24" fill="#fff1ec"/><rect x="168.70" y="316.00" width="11.85" height="10.24" fill="#fefdff"/><rect x="180.55" y="316.00" width="11.85" height="10.24" fill="#c2a0fc"/><rect x="192.40" y="316.00" width="11.85" height="10.24" fill="#d1b4fd"/><rect x="204.25" y="316.00" width="11.85" height="10.24" fill="#d8bffe"/><rect x="216.10" y="316.00" width="11.85" height="10.24" fill="#ba93fc"/><rect x="227.95" y="316.00" width="11.85" height="10.24" fill="#dfcafe"/><rect x="97.60" y="326.24" width="11.85" height="10.24" fill="#ff8060"/><rect x="109.45" y="326.24" width="11.85" height="10.24" fill="#ffefe9"/><rect x="121.30" y="326.24" width="11.85" height="10.24" fill="#cdb0fd"/><rect x="133.15" y="326.24" width="11.85" height="10.24" fill="#fff7f4"/><rect x="145.00" y="326.24" width="11.85" height="10.24" fill="#fff9f7"/><rect x="156.85" y="326.24" width="11.85" height="10.24" fill="#faf4ff"/><rect x="168.70" y="326.24" width="11.85" height="10.24" fill="#d6bcfe"/><rect x="180.55" y="326.24" width="11.85" height="10.24" fill="#bb95fc"/><rect x="192.40" y="326.24" width="11.85" height="10.24" fill="#9f73f9"/><rect x="204.25" y="326.24" width="11.85" height="10.24" fill="#c09dfc"/><rect x="216.10" y="326.24" width="11.85" height="10.24" fill="#6335f3"/><rect x="227.95" y="326.24" width="11.85" height="10.24" fill="#d1b4fd"/><rect x="85.75" y="336.48" width="11.85" height="10.24" fill="#ffa88d"/><rect x="97.60" y="336.48" width="11.85" height="10.24" fill="#ff8262"/><rect x="109.45" y="336.48" width="11.85" height="10.24" fill="#ffebe4"/><rect x="121.30" y="336.48" width="11.85" height="10.24" fill="#ba93fc"/><rect x="133.15" y="336.48" width="11.85" height="10.24" fill="#e5d2fe"/><rect x="145.00" y="336.48" width="11.85" height="10.24" fill="#dec8fe"/><rect x="156.85" y="336.48" width="11.85" height="10.24" fill="#fffdfc"/><rect x="168.70" y="336.48" width="11.85" height="10.24" fill="#efe4ff"/><rect x="180.55" y="336.48" width="11.85" height="10.24" fill="#bb95fc"/><rect x="192.40" y="336.48" width="11.85" height="10.24" fill="#dcc6fe"/><rect x="204.25" y="336.48" width="11.85" height="10.24" fill="#d0b2fd"/><rect x="216.10" y="336.48" width="11.85" height="10.24" fill="#c2a0fc"/><rect x="227.95" y="336.48" width="11.85" height="10.24" fill="#e8d7fe"/><rect x="73.90" y="346.72" width="11.85" height="10.24" fill="#ffc1ac"/><rect x="85.75" y="346.72" width="11.85" height="10.24" fill="#ffe9e0"/><rect x="97.60" y="346.72" width="11.85" height="10.24" fill="#ff8060"/><rect x="109.45" y="346.72" width="11.85" height="10.24" fill="#d8bffe"/><rect x="121.30" y="346.72" width="11.85" height="10.24" fill="#bb95fc"/><rect x="133.15" y="346.72" width="11.85" height="10.24" fill="#a378fa"/><rect x="145.00" y="346.72" width="11.85" height="10.24" fill="#b58ffb"/><rect x="156.85" y="346.72" width="11.85" height="10.24" fill="#e9d9fe"/><rect x="168.70" y="346.72" width="11.85" height="10.24" fill="#fbf8ff"/><rect x="180.55" y="346.72" width="11.85" height="10.24" fill="#caabfd"/><rect x="192.40" y="346.72" width="11.85" height="10.24" fill="#eadcff"/><rect x="204.25" y="346.72" width="11.85" height="10.24" fill="#ccadfd"/><rect x="216.10" y="346.72" width="11.85" height="10.24" fill="#eadcff"/><rect x="227.95" y="346.72" width="11.85" height="10.24" fill="#dec8fe"/><rect x="62.05" y="356.96" width="11.85" height="10.24" fill="#ff0000"/><rect x="73.90" y="356.96" width="11.85" height="10.24" fill="#ffc1ac"/><rect x="85.75" y="356.96" width="11.85" height="10.24" fill="#ffe9e0"/><rect x="97.60" y="356.96" width="11.85" height="10.24" fill="#ff7e5d"/><rect x="109.45" y="356.96" width="11.85" height="10.24" fill="#d8bffe"/><rect x="121.30" y="356.96" width="11.85" height="10.24" fill="#bd98fc"/><rect x="133.15" y="356.96" width="11.85" height="10.24" fill="#a378fa"/><rect x="145.00" y="356.96" width="11.85" height="10.24" fill="#b58ffb"/><rect x="156.85" y="356.96" width="11.85" height="10.24" fill="#eadcff"/><rect x="168.70" y="356.96" width="11.85" height="10.24" fill="#fcfaff"/><rect x="180.55" y="356.96" width="11.85" height="10.24" fill="#ccadfd"/><rect x="192.40" y="356.96" width="11.85" height="10.24" fill="#eadcff"/><rect x="204.25" y="356.96" width="11.85" height="10.24" fill="#cdb0fd"/><rect x="216.10" y="356.96" width="11.85" height="10.24" fill="#eadcff"/><rect x="227.95" y="356.96" width="11.85" height="10.24" fill="#dcc6fe"/><rect x="50.20" y="367.20" width="11.85" height="10.24" fill="#fff1ec"/><rect x="62.05" y="367.20" width="11.85" height="10.24" fill="#fff1ec"/><rect x="73.90" y="367.20" width="11.85" height="10.24" fill="#f8f2ff"/><rect x="85.75" y="367.20" width="11.85" height="10.24" fill="#ffe5db"/><rect x="97.60" y="367.20" width="11.85" height="10.24" fill="#fff3ee"/><rect x="109.45" y="367.20" width="11.85" height="10.24" fill="#caabfd"/><rect x="121.30" y="367.20" width="11.85" height="10.24" fill="#f7f0ff"/><rect x="133.15" y="367.20" width="11.85" height="10.24" fill="#fffdfc"/><rect x="145.00" y="367.20" width="11.85" height="10.24" fill="#f3ebff"/><rect x="156.85" y="367.20" width="11.85" height="10.24" fill="#fff3ee"/><rect x="168.70" y="367.20" width="11.85" height="10.24" fill="#fff9f7"/><rect x="180.55" y="367.20" width="11.85" height="10.24" fill="#e1cdfe"/><rect x="192.40" y="367.20" width="11.85" height="10.24" fill="#dcc6fe"/><rect x="204.25" y="367.20" width="11.85" height="10.24" fill="#efe4ff"/><rect x="216.10" y="367.20" width="11.85" height="10.24" fill="#f0e6ff"/><rect x="227.95" y="367.20" width="11.85" height="10.24" fill="#d9c1fe"/></g>
<g class="ct"><text transform="translate(233.88 221.32) scale(1 0.950)">0.5</text><text transform="translate(222.03 231.56) scale(1 0.950)">0.4</text><text transform="translate(233.88 231.56) scale(1 0.950)">0.23</text><text transform="translate(210.18 241.80) scale(1 0.950)">0.7</text><text transform="translate(222.03 241.80) scale(1 0.950)">0.51</text><text transform="translate(233.88 241.80) scale(1 0.950)">0.28</text><text transform="translate(198.32 252.04) scale(1 0.950)">0.67</text><text transform="translate(210.18 252.04) scale(1 0.950)">0.67</text><text transform="translate(222.03 252.04) scale(1 0.950)">0.34</text><text transform="translate(233.88 252.04) scale(1 0.950)">0.14</text><text transform="translate(186.48 262.28) scale(1 0.950)">0.11</text><text transform="translate(198.32 262.28) scale(1 0.950)">0.21</text><text transform="translate(210.18 262.28) scale(1 0.950)">0.21</text><text transform="translate(222.03 262.28) scale(1 0.950)">0.48</text><text transform="translate(233.88 262.28) scale(1 0.950)">0.17</text><text transform="translate(174.62 272.52) scale(1 0.950)">0.4</text><text transform="translate(186.48 272.52) scale(1 0.950)">0.08</text><text transform="translate(198.32 272.52) scale(1 0.950)">0.15</text><text transform="translate(210.18 272.52) scale(1 0.950)">0.36</text><text transform="translate(222.03 272.52) scale(1 0.950)">0.23</text><text transform="translate(233.88 272.52) scale(1 0.950)">0.14</text><text transform="translate(162.78 282.76) scale(1 0.950)">0.36</text><text transform="translate(174.62 282.76) scale(1 0.950)">0.17</text><text transform="translate(186.48 282.76) scale(1 0.950)">0.22</text><text transform="translate(198.32 282.76) scale(1 0.950)">0.13</text><text transform="translate(210.18 282.76) scale(1 0.950)">0.37</text><text transform="translate(222.03 282.76) scale(1 0.950)">0.12</text><text transform="translate(233.88 282.76) scale(1 0.950)">0.12</text><text transform="translate(150.93 293.00) scale(1 0.950)">0.79</text><text transform="translate(162.78 293.00) scale(1 0.950)">0.54</text><text transform="translate(174.62 293.00) scale(1 0.950)">0.34</text><text transform="translate(186.48 293.00) scale(1 0.950)">0.26</text><text transform="translate(198.32 293.00) scale(1 0.950)">0.13</text><text transform="translate(210.18 293.00) scale(1 0.950)">0.45</text><text transform="translate(222.03 293.00) scale(1 0.950)">0.18</text><text transform="translate(233.88 293.00) scale(1 0.950)">0.18</text><text transform="translate(139.08 303.24) scale(1 0.950)">0.62</text><text transform="translate(150.93 303.24) scale(1 0.950)">0.56</text><text transform="translate(162.78 303.24) scale(1 0.950)">0.43</text><text transform="translate(174.62 303.24) scale(1 0.950)">0.29</text><text transform="translate(186.48 303.24) scale(1 0.950)">0.62</text><text transform="translate(198.32 303.24) scale(1 0.950)">0.45</text><text transform="translate(210.18 303.24) scale(1 0.950)">0.69</text><text transform="translate(222.03 303.24) scale(1 0.950)">0.42</text><text transform="translate(233.88 303.24) scale(1 0.950)">0.21</text><text transform="translate(127.22 313.48) scale(1 0.950)">-0.11</text><text transform="translate(139.08 313.48) scale(1 0.950)">0.03</text><text transform="translate(150.93 313.48) scale(1 0.950)">0.05</text><text transform="translate(162.78 313.48) scale(1 0.950)">-0.01</text><text transform="translate(174.62 313.48) scale(1 0.950)">-0.12</text><text transform="translate(186.48 313.48) scale(1 0.950)">-0.06</text><text transform="translate(198.32 313.48) scale(1 0.950)">-0.03</text><text transform="translate(210.18 313.48) scale(1 0.950)">-0.05</text><text transform="translate(222.03 313.48) scale(1 0.950)">-0.04</text><text transform="translate(233.88 313.48) scale(1 0.950)">0.19</text><text transform="translate(115.38 323.72) scale(1 0.950)">0</text><text transform="translate(127.22 323.72) scale(1 0.950)">-0.35</text><text transform="translate(139.08 323.72) scale(1 0.950)">-0.14</text><text transform="translate(150.93 323.72) scale(1 0.950)">-0.14</text><text transform="translate(162.78 323.72) scale(1 0.950)">0.07</text><text transform="translate(174.62 323.72) scale(1 0.950)">-0.01</text><text transform="translate(186.48 323.72) scale(1 0.950)">-0.39</text><text transform="translate(198.32 323.72) scale(1 0.950)">-0.3</text><text transform="translate(210.18 323.72) scale(1 0.950)">-0.26</text><text transform="translate(222.03 323.72) scale(1 0.950)">-0.44</text><text transform="translate(233.88 323.72) scale(1 0.950)">-0.21</text><text transform="translate(103.52 333.96) scale(1 0.950)">0.62</text><text transform="translate(115.38 333.96) scale(1 0.950)">0.08</text><text transform="translate(127.22 333.96) scale(1 0.950)">-0.32</text><text transform="translate(139.08 333.96) scale(1 0.950)">0.04</text><text transform="translate(150.93 333.96) scale(1 0.950)">0.03</text><text transform="translate(162.78 333.96) scale(1 0.950)">-0.04</text><text transform="translate(174.62 333.96) scale(1 0.950)">-0.27</text><text transform="translate(186.48 333.96) scale(1 0.950)">-0.43</text><text transform="translate(198.32 333.96) scale(1 0.950)">-0.58</text><text transform="translate(210.18 333.96) scale(1 0.950)">-0.4</text><text transform="translate(222.03 333.96) scale(1 0.950)">-0.84</text><text transform="translate(233.88 333.96) scale(1 0.950)">-0.3</text><text transform="translate(91.67 344.20) scale(1 0.950)">0.43</text><text transform="translate(103.52 344.20) scale(1 0.950)">0.61</text><text transform="translate(115.38 344.20) scale(1 0.950)">0.1</text><text transform="translate(127.22 344.20) scale(1 0.950)">-0.44</text><text transform="translate(139.08 344.20) scale(1 0.950)">-0.18</text><text transform="translate(150.93 344.20) scale(1 0.950)">-0.22</text><text transform="translate(162.78 344.20) scale(1 0.950)">0.01</text><text transform="translate(174.62 344.20) scale(1 0.950)">-0.11</text><text transform="translate(186.48 344.20) scale(1 0.950)">-0.43</text><text transform="translate(198.32 344.20) scale(1 0.950)">-0.23</text><text transform="translate(210.18 344.20) scale(1 0.950)">-0.31</text><text transform="translate(222.03 344.20) scale(1 0.950)">-0.39</text><text transform="translate(233.88 344.20) scale(1 0.950)">-0.16</text><text transform="translate(79.83 354.44) scale(1 0.950)">0.31</text><text transform="translate(91.67 354.44) scale(1 0.950)">0.11</text><text transform="translate(103.52 354.44) scale(1 0.950)">0.62</text><text transform="translate(115.38 354.44) scale(1 0.950)">-0.26</text><text transform="translate(127.22 354.44) scale(1 0.950)">-0.43</text><text transform="translate(139.08 354.44) scale(1 0.950)">-0.56</text><text transform="translate(150.93 354.44) scale(1 0.950)">-0.46</text><text transform="translate(162.78 354.44) scale(1 0.950)">-0.15</text><text transform="translate(174.62 354.44) scale(1 0.950)">-0.03</text><text transform="translate(186.48 354.44) scale(1 0.950)">-0.34</text><text transform="translate(198.32 354.44) scale(1 0.950)">-0.14</text><text transform="translate(210.18 354.44) scale(1 0.950)">-0.33</text><text transform="translate(222.03 354.44) scale(1 0.950)">-0.14</text><text transform="translate(233.88 354.44) scale(1 0.950)">-0.22</text><text transform="translate(67.98 364.68) scale(1 0.950)">1</text><text transform="translate(79.83 364.68) scale(1 0.950)">0.31</text><text transform="translate(91.67 364.68) scale(1 0.950)">0.11</text><text transform="translate(103.52 364.68) scale(1 0.950)">0.63</text><text transform="translate(115.38 364.68) scale(1 0.950)">-0.26</text><text transform="translate(127.22 364.68) scale(1 0.950)">-0.42</text><text transform="translate(139.08 364.68) scale(1 0.950)">-0.56</text><text transform="translate(150.93 364.68) scale(1 0.950)">-0.46</text><text transform="translate(162.78 364.68) scale(1 0.950)">-0.14</text><text transform="translate(174.62 364.68) scale(1 0.950)">-0.02</text><text transform="translate(186.48 364.68) scale(1 0.950)">-0.33</text><text transform="translate(198.32 364.68) scale(1 0.950)">-0.14</text><text transform="translate(210.18 364.68) scale(1 0.950)">-0.32</text><text transform="translate(222.03 364.68) scale(1 0.950)">-0.14</text><text transform="translate(233.88 364.68) scale(1 0.950)">-0.23</text><text transform="translate(56.12 374.92) scale(1 0.950)">0.07</text><text transform="translate(67.98 374.92) scale(1 0.950)">0.07</text><text transform="translate(79.83 374.92) scale(1 0.950)">-0.05</text><text transform="translate(91.67 374.92) scale(1 0.950)">0.13</text><text transform="translate(103.52 374.92) scale(1 0.950)">0.06</text><text transform="translate(115.38 374.92) scale(1 0.950)">-0.34</text><text transform="translate(127.22 374.92) scale(1 0.950)">-0.06</text><text transform="translate(139.08 374.92) scale(1 0.950)">0.01</text><text transform="translate(150.93 374.92) scale(1 0.950)">-0.08</text><text transform="translate(162.78 374.92) scale(1 0.950)">0.06</text><text transform="translate(174.62 374.92) scale(1 0.950)">0.03</text><text transform="translate(186.48 374.92) scale(1 0.950)">-0.2</text><text transform="translate(198.32 374.92) scale(1 0.950)">-0.23</text><text transform="translate(210.18 374.92) scale(1 0.950)">-0.11</text><text transform="translate(222.03 374.92) scale(1 0.950)">-0.1</text><text transform="translate(233.88 374.92) scale(1 0.950)">-0.25</text></g>
<g class="yl"><text transform="translate(46.80 221.02) scale(1 1.000)">DO</text><text transform="translate(46.80 231.26) scale(1 1.000)">TP</text><text transform="translate(46.80 241.50) scale(1 1.000)">TN</text><text transform="translate(46.80 251.74) scale(1 1.000)">EC</text><text transform="translate(46.80 261.98) scale(1 1.000)">pH</text><text transform="translate(46.80 272.22) scale(1 1.000)">SS</text><text transform="translate(46.80 282.46) scale(1 1.000)">TOC</text><text transform="translate(46.80 292.70) scale(1 1.000)">COD</text><text transform="translate(46.80 302.94) scale(1 1.000)">BOD</text><text transform="translate(46.80 313.18) scale(1 1.000)">Turbidity</text><text transform="translate(46.80 323.42) scale(1 1.000)">Discharge</text><text transform="translate(46.80 333.66) scale(1 1.000)">Temperature</text><text transform="translate(46.80 343.90) scale(1 1.000)">Inflow</text><text transform="translate(46.80 354.14) scale(1 1.000)">Reservoir</text><text transform="translate(46.80 364.38) scale(1 1.000)">LowWaterLevel</text><text transform="translate(46.80 374.62) scale(1 1.000)">Transparency</text></g>
<g class="xl"><text transform="translate(59.73 384.74) rotate(-40.0)">LowWaterLevel</text><text transform="translate(71.57 384.74) rotate(-40.0)">Reservoir</text><text transform="translate(83.42 384.74) rotate(-40.0)">Inflow</text><text transform="translate(95.28 384.74) rotate(-40.0)">Temperature</text><text transform="translate(107.12 384.74) rotate(-40.0)">Discharge</text><text transform="translate(118.97 384.74) rotate(-40.0)">Turbidity</text><text transform="translate(130.82 384.74) rotate(-40.0)">BOD</text><text transform="translate(142.67 384.74) rotate(-40.0)">COD</text><text transform="translate(154.53 384.74) rotate(-40.0)">TOC</text><text transform="translate(166.38 384.74) rotate(-40.0)">SS</text><text transform="translate(178.22 384.74) rotate(-40.0)">pH</text><text transform="translate(190.08 384.74) rotate(-40.0)">EC</text><text transform="translate(201.92 384.74) rotate(-40.0)">TN</text><text transform="translate(213.78 384.74) rotate(-40.0)">TP</text><text transform="translate(225.62 384.74) rotate(-40.0)">DO</text><text transform="translate(237.47 384.74) rotate(-40.0)">Chla</text></g>
<text class="lt" x="5.90" y="208.60">(c)</text>
<path d="M336.93 210.50V380.46M328.40 218.53H523.36M348.79 210.50V380.46M328.40 228.79H523.36M360.65 210.50V380.46M328.40 239.05H523.36M372.51 210.50V380.46M328.40 249.31H523.36M384.37 210.50V380.46M328.40 259.57H523.36M396.23 210.50V380.46M328.40 269.83H523.36M408.09 210.50V380.46M328.40 280.09H523.36M419.95 210.50V380.46M328.40 290.35H523.36M431.81 210.50V380.46M328.40 300.61H523.36M443.67 210.50V380.46M328.40 310.87H523.36M455.53 210.50V380.46M328.40 321.13H523.36M467.39 210.50V380.46M328.40 331.39H523.36M479.25 210.50V380.46M328.40 341.65H523.36M491.11 210.50V380.46M328.40 351.91H523.36M502.97 210.50V380.46M328.40 362.17H523.36M514.83 210.50V380.46M328.40 372.43H523.36" stroke="#efefef" stroke-width="0.55" fill="none"/>
<g stroke="#dcdcdc" stroke-width="0.3"><rect x="508.90" y="213.40" width="11.86" height="10.26" fill="#ff0000"/><rect x="497.04" y="223.66" width="11.86" height="10.26" fill="#ff9375"/><rect x="508.90" y="223.66" width="11.86" height="10.26" fill="#ff8060"/><rect x="485.18" y="233.92" width="11.86" height="10.26" fill="#fff7f4"/><rect x="497.04" y="233.92" width="11.86" height="10.26" fill="#fff3ee"/><rect x="508.90" y="233.92" width="11.86" height="10.26" fill="#fff3ee"/><rect x="473.32" y="244.18" width="11.86" height="10.26" fill="#f8f2ff"/><rect x="485.18" y="244.18" width="11.86" height="10.26" fill="#ff8869"/><rect x="497.04" y="244.18" width="11.86" height="10.26" fill="#ffc1ac"/><rect x="508.90" y="244.18" width="11.86" height="10.26" fill="#ffc1ac"/><rect x="461.46" y="254.44" width="11.86" height="10.26" fill="#ffa88d"/><rect x="473.32" y="254.44" width="11.86" height="10.26" fill="#fff4f1"/><rect x="485.18" y="254.44" width="11.86" height="10.26" fill="#ff9e81"/><rect x="497.04" y="254.44" width="11.86" height="10.26" fill="#fff7f4"/><rect x="508.90" y="254.44" width="11.86" height="10.26" fill="#fff7f4"/><rect x="449.60" y="264.70" width="11.86" height="10.26" fill="#ffcfbe"/><rect x="461.46" y="264.70" width="11.86" height="10.26" fill="#ffe5db"/><rect x="473.32" y="264.70" width="11.86" height="10.26" fill="#d5bafd"/><rect x="485.18" y="264.70" width="11.86" height="10.26" fill="#fff3ee"/><rect x="497.04" y="264.70" width="11.86" height="10.26" fill="#dcc6fe"/><rect x="508.90" y="264.70" width="11.86" height="10.26" fill="#dcc6fe"/><rect x="437.74" y="274.96" width="11.86" height="10.26" fill="#f2e9ff"/><rect x="449.60" y="274.96" width="11.86" height="10.26" fill="#fff3ee"/><rect x="461.46" y="274.96" width="11.86" height="10.26" fill="#dec8fe"/><rect x="473.32" y="274.96" width="11.86" height="10.26" fill="#f8f2ff"/><rect x="485.18" y="274.96" width="11.86" height="10.26" fill="#eadcff"/><rect x="497.04" y="274.96" width="11.86" height="10.26" fill="#b58ffb"/><rect x="508.90" y="274.96" width="11.86" height="10.26" fill="#b58ffb"/><rect x="425.88" y="285.22" width="11.86" height="10.26" fill="#ff5938"/><rect x="437.74" y="285.22" width="11.86" height="10.26" fill="#f3ebff"/><rect x="449.60" y="285.22" width="11.86" height="10.26" fill="#fffbfa"/><rect x="461.46" y="285.22" width="11.86" height="10.26" fill="#e5d2fe"/><rect x="473.32" y="285.22" width="11.86" height="10.26" fill="#f3ebff"/><rect x="485.18" y="285.22" width="11.86" height="10.26" fill="#eadcff"/><rect x="497.04" y="285.22" width="11.86" height="10.26" fill="#a378fa"/><rect x="508.90" y="285.22" width="11.86" height="10.26" fill="#a378fa"/><rect x="414.02" y="295.48" width="11.86" height="10.26" fill="#ff8060"/><rect x="425.88" y="295.48" width="11.86" height="10.26" fill="#ff8d6e"/><rect x="437.74" y="295.48" width="11.86" height="10.26" fill="#e1cdfe"/><rect x="449.60" y="295.48" width="11.86" height="10.26" fill="#c7a7fd"/><rect x="461.46" y="295.48" width="11.86" height="10.26" fill="#ba93fc"/><rect x="473.32" y="295.48" width="11.86" height="10.26" fill="#f4edff"/><rect x="485.18" y="295.48" width="11.86" height="10.26" fill="#c9a9fd"/><rect x="497.04" y="295.48" width="11.86" height="10.26" fill="#bd98fc"/><rect x="508.90" y="295.48" width="11.86" height="10.26" fill="#bb95fc"/><rect x="402.16" y="305.74" width="11.86" height="10.26" fill="#ffa88d"/><rect x="414.02" y="305.74" width="11.86" height="10.26" fill="#ff7c5b"/><rect x="425.88" y="305.74" width="11.86" height="10.26" fill="#ffb79f"/><rect x="437.74" y="305.74" width="11.86" height="10.26" fill="#f2e9ff"/><rect x="449.60" y="305.74" width="11.86" height="10.26" fill="#e8d7fe"/><rect x="461.46" y="305.74" width="11.86" height="10.26" fill="#fffdfc"/><rect x="473.32" y="305.74" width="11.86" height="10.26" fill="#fff3ee"/><rect x="485.18" y="305.74" width="11.86" height="10.26" fill="#fff1ec"/><rect x="497.04" y="305.74" width="11.86" height="10.26" fill="#eadcff"/><rect x="508.90" y="305.74" width="11.86" height="10.26" fill="#e9d9fe"/><rect x="390.30" y="316.00" width="11.86" height="10.26" fill="#ffcab9"/><rect x="402.16" y="316.00" width="11.86" height="10.26" fill="#ffddd1"/><rect x="414.02" y="316.00" width="11.86" height="10.26" fill="#ffded4"/><rect x="425.88" y="316.00" width="11.86" height="10.26" fill="#ffe0d6"/><rect x="437.74" y="316.00" width="11.86" height="10.26" fill="#dcc6fe"/><rect x="449.60" y="316.00" width="11.86" height="10.26" fill="#d5bafd"/><rect x="461.46" y="316.00" width="11.86" height="10.26" fill="#faf4ff"/><rect x="473.32" y="316.00" width="11.86" height="10.26" fill="#fefdff"/><rect x="485.18" y="316.00" width="11.86" height="10.26" fill="#ffe7de"/><rect x="497.04" y="316.00" width="11.86" height="10.26" fill="#ffcfbe"/><rect x="508.90" y="316.00" width="11.86" height="10.26" fill="#ffcfbe"/><rect x="378.44" y="326.26" width="11.86" height="10.26" fill="#f7f0ff"/><rect x="390.30" y="326.26" width="11.86" height="10.26" fill="#f2e9ff"/><rect x="402.16" y="326.26" width="11.86" height="10.26" fill="#ffe2d9"/><rect x="414.02" y="326.26" width="11.86" height="10.26" fill="#ffefe9"/><rect x="425.88" y="326.26" width="11.86" height="10.26" fill="#ffded4"/><rect x="437.74" y="326.26" width="11.86" height="10.26" fill="#ffd5c6"/><rect x="449.60" y="326.26" width="11.86" height="10.26" fill="#d9c1fe"/><rect x="461.46" y="326.26" width="11.86" height="10.26" fill="#dfcafe"/><rect x="473.32" y="326.26" width="11.86" height="10.26" fill="#c5a4fc"/><rect x="485.18" y="326.26" width="11.86" height="10.26" fill="#d6bcfe"/><rect x="497.04" y="326.26" width="11.86" height="10.26" fill="#d6bcfe"/><rect x="508.90" y="326.26" width="11.86" height="10.26" fill="#d6bcfe"/><rect x="366.58" y="336.52" width="11.86" height="10.26" fill="#ff9e81"/><rect x="378.44" y="336.52" width="11.86" height="10.26" fill="#ffb29a"/><rect x="390.30" y="336.52" width="11.86" height="10.26" fill="#ffe2d9"/><rect x="402.16" y="336.52" width="11.86" height="10.26" fill="#ffb79f"/><rect x="414.02" y="336.52" width="11.86" height="10.26" fill="#ffe9e0"/><rect x="425.88" y="336.52" width="11.86" height="10.26" fill="#ffe7de"/><rect x="437.74" y="336.52" width="11.86" height="10.26" fill="#ede0ff"/><rect x="449.60" y="336.52" width="11.86" height="10.26" fill="#6335f3"/><rect x="461.46" y="336.52" width="11.86" height="10.26" fill="#c7a7fd"/><rect x="473.32" y="336.52" width="11.86" height="10.26" fill="#e9d9fe"/><rect x="485.18" y="336.52" width="11.86" height="10.26" fill="#bf9bfc"/><rect x="497.04" y="336.52" width="11.86" height="10.26" fill="#efe4ff"/><rect x="508.90" y="336.52" width="11.86" height="10.26" fill="#f0e6ff"/><rect x="354.72" y="346.78" width="11.86" height="10.26" fill="#ffb9a2"/><rect x="366.58" y="346.78" width="11.86" height="10.26" fill="#ffd1c1"/><rect x="378.44" y="346.78" width="11.86" height="10.26" fill="#fff3ee"/><rect x="390.30" y="346.78" width="11.86" height="10.26" fill="#ffb79f"/><rect x="402.16" y="346.78" width="11.86" height="10.26" fill="#ff714f"/><rect x="414.02" y="346.78" width="11.86" height="10.26" fill="#ffa488"/><rect x="425.88" y="346.78" width="11.86" height="10.26" fill="#ffb49d"/><rect x="437.74" y="346.78" width="11.86" height="10.26" fill="#ecdeff"/><rect x="449.60" y="346.78" width="11.86" height="10.26" fill="#bd98fc"/><rect x="461.46" y="346.78" width="11.86" height="10.26" fill="#d0b2fd"/><rect x="473.32" y="346.78" width="11.86" height="10.26" fill="#ede0ff"/><rect x="485.18" y="346.78" width="11.86" height="10.26" fill="#d8bffe"/><rect x="497.04" y="346.78" width="11.86" height="10.26" fill="#cdb0fd"/><rect x="508.90" y="346.78" width="11.86" height="10.26" fill="#ccadfd"/><rect x="342.86" y="357.04" width="11.86" height="10.26" fill="#ff6e4d"/><rect x="354.72" y="357.04" width="11.86" height="10.26" fill="#ff9e81"/><rect x="366.58" y="357.04" width="11.86" height="10.26" fill="#ffc8b7"/><rect x="378.44" y="357.04" width="11.86" height="10.26" fill="#ffe0d6"/><rect x="390.30" y="357.04" width="11.86" height="10.26" fill="#ffe0d6"/><rect x="402.16" y="357.04" width="11.86" height="10.26" fill="#ffa488"/><rect x="414.02" y="357.04" width="11.86" height="10.26" fill="#ffe5db"/><rect x="425.88" y="357.04" width="11.86" height="10.26" fill="#ffe5db"/><rect x="437.74" y="357.04" width="11.86" height="10.26" fill="#f4edff"/><rect x="449.60" y="357.04" width="11.86" height="10.26" fill="#9f73f9"/><rect x="461.46" y="357.04" width="11.86" height="10.26" fill="#dcc6fe"/><rect x="473.32" y="357.04" width="11.86" height="10.26" fill="#dcc6fe"/><rect x="485.18" y="357.04" width="11.86" height="10.26" fill="#d1b4fd"/><rect x="497.04" y="357.04" width="11.86" height="10.26" fill="#eadcff"/><rect x="508.90" y="357.04" width="11.86" height="10.26" fill="#eadcff"/><rect x="331.00" y="367.30" width="11.86" height="10.26" fill="#ff7554"/><rect x="342.86" y="367.30" width="11.86" height="10.26" fill="#ff7554"/><rect x="354.72" y="367.30" width="11.86" height="10.26" fill="#ffc3ae"/><rect x="366.58" y="367.30" width="11.86" height="10.26" fill="#ffd7c8"/><rect x="378.44" y="367.30" width="11.86" height="10.26" fill="#fffbfa"/><rect x="390.30" y="367.30" width="11.86" height="10.26" fill="#ffefe9"/><rect x="402.16" y="367.30" width="11.86" height="10.26" fill="#ff8060"/><rect x="414.02" y="367.30" width="11.86" height="10.26" fill="#ffcab9"/><rect x="425.88" y="367.30" width="11.86" height="10.26" fill="#ffd3c3"/><rect x="437.74" y="367.30" width="11.86" height="10.26" fill="#f7f0ff"/><rect x="449.60" y="367.30" width="11.86" height="10.26" fill="#bf9bfc"/><rect x="461.46" y="367.30" width="11.86" height="10.26" fill="#bb95fc"/><rect x="473.32" y="367.30" width="11.86" height="10.26" fill="#d9c1fe"/><rect x="485.18" y="367.30" width="11.86" height="10.26" fill="#c2a0fc"/><rect x="497.04" y="367.30" width="11.86" height="10.26" fill="#ccadfd"/><rect x="508.90" y="367.30" width="11.86" height="10.26" fill="#caabfd"/></g>
<g class="ct"><text transform="translate(514.83 221.13) scale(1 0.950)">1</text><text transform="translate(502.97 231.39) scale(1 0.950)">0.53</text><text transform="translate(514.83 231.39) scale(1 0.950)">0.62</text><text transform="translate(491.11 241.65) scale(1 0.950)">0.04</text><text transform="translate(502.97 241.65) scale(1 0.950)">0.06</text><text transform="translate(514.83 241.65) scale(1 0.950)">0.06</text><text transform="translate(479.25 251.91) scale(1 0.950)">-0.05</text><text transform="translate(491.11 251.91) scale(1 0.950)">0.58</text><text transform="translate(502.97 251.91) scale(1 0.950)">0.31</text><text transform="translate(514.83 251.91) scale(1 0.950)">0.31</text><text transform="translate(467.39 262.17) scale(1 0.950)">0.43</text><text transform="translate(479.25 262.17) scale(1 0.950)">0.05</text><text transform="translate(491.11 262.17) scale(1 0.950)">0.48</text><text transform="translate(502.97 262.17) scale(1 0.950)">0.04</text><text transform="translate(514.83 262.17) scale(1 0.950)">0.04</text><text transform="translate(455.53 272.43) scale(1 0.950)">0.24</text><text transform="translate(467.39 272.43) scale(1 0.950)">0.13</text><text transform="translate(479.25 272.43) scale(1 0.950)">-0.28</text><text transform="translate(491.11 272.43) scale(1 0.950)">0.06</text><text transform="translate(502.97 272.43) scale(1 0.950)">-0.23</text><text transform="translate(514.83 272.43) scale(1 0.950)">-0.23</text><text transform="translate(443.67 282.69) scale(1 0.950)">-0.09</text><text transform="translate(455.53 282.69) scale(1 0.950)">0.06</text><text transform="translate(467.39 282.69) scale(1 0.950)">-0.22</text><text transform="translate(479.25 282.69) scale(1 0.950)">-0.05</text><text transform="translate(491.11 282.69) scale(1 0.950)">-0.14</text><text transform="translate(502.97 282.69) scale(1 0.950)">-0.46</text><text transform="translate(514.83 282.69) scale(1 0.950)">-0.46</text><text transform="translate(431.81 292.95) scale(1 0.950)">0.79</text><text transform="translate(443.67 292.95) scale(1 0.950)">-0.08</text><text transform="translate(455.53 292.95) scale(1 0.950)">0.02</text><text transform="translate(467.39 292.95) scale(1 0.950)">-0.18</text><text transform="translate(479.25 292.95) scale(1 0.950)">-0.08</text><text transform="translate(491.11 292.95) scale(1 0.950)">-0.14</text><text transform="translate(502.97 292.95) scale(1 0.950)">-0.56</text><text transform="translate(514.83 292.95) scale(1 0.950)">-0.56</text><text transform="translate(419.95 303.21) scale(1 0.950)">0.62</text><text transform="translate(431.81 303.21) scale(1 0.950)">0.56</text><text transform="translate(443.67 303.21) scale(1 0.950)">-0.2</text><text transform="translate(455.53 303.21) scale(1 0.950)">-0.36</text><text transform="translate(467.39 303.21) scale(1 0.950)">-0.44</text><text transform="translate(479.25 303.21) scale(1 0.950)">-0.07</text><text transform="translate(491.11 303.21) scale(1 0.950)">-0.35</text><text transform="translate(502.97 303.21) scale(1 0.950)">-0.42</text><text transform="translate(514.83 303.21) scale(1 0.950)">-0.43</text><text transform="translate(408.09 313.47) scale(1 0.950)">0.43</text><text transform="translate(419.95 313.47) scale(1 0.950)">0.64</text><text transform="translate(431.81 313.47) scale(1 0.950)">0.36</text><text transform="translate(443.67 313.47) scale(1 0.950)">-0.09</text><text transform="translate(455.53 313.47) scale(1 0.950)">-0.16</text><text transform="translate(467.39 313.47) scale(1 0.950)">0.01</text><text transform="translate(479.25 313.47) scale(1 0.950)">0.06</text><text transform="translate(491.11 313.47) scale(1 0.950)">0.07</text><text transform="translate(502.97 313.47) scale(1 0.950)">-0.14</text><text transform="translate(514.83 313.47) scale(1 0.950)">-0.15</text><text transform="translate(396.23 323.73) scale(1 0.950)">0.26</text><text transform="translate(408.09 323.73) scale(1 0.950)">0.17</text><text transform="translate(419.95 323.73) scale(1 0.950)">0.16</text><text transform="translate(431.81 323.73) scale(1 0.950)">0.15</text><text transform="translate(443.67 323.73) scale(1 0.950)">-0.23</text><text transform="translate(455.53 323.73) scale(1 0.950)">-0.28</text><text transform="translate(467.39 323.73) scale(1 0.950)">-0.04</text><text transform="translate(479.25 323.73) scale(1 0.950)">-0.01</text><text transform="translate(491.11 323.73) scale(1 0.950)">0.12</text><text transform="translate(502.97 323.73) scale(1 0.950)">0.24</text><text transform="translate(514.83 323.73) scale(1 0.950)">0.24</text><text transform="translate(384.37 333.99) scale(1 0.950)">-0.06</text><text transform="translate(396.23 333.99) scale(1 0.950)">-0.09</text><text transform="translate(408.09 333.99) scale(1 0.950)">0.14</text><text transform="translate(419.95 333.99) scale(1 0.950)">0.08</text><text transform="translate(431.81 333.99) scale(1 0.950)">0.16</text><text transform="translate(443.67 333.99) scale(1 0.950)">0.21</text><text transform="translate(455.53 333.99) scale(1 0.950)">-0.25</text><text transform="translate(467.39 333.99) scale(1 0.950)">-0.21</text><text transform="translate(479.25 333.99) scale(1 0.950)">-0.37</text><text transform="translate(491.11 333.99) scale(1 0.950)">-0.27</text><text transform="translate(502.97 333.99) scale(1 0.950)">-0.27</text><text transform="translate(514.83 333.99) scale(1 0.950)">-0.27</text><text transform="translate(372.51 344.25) scale(1 0.950)">0.48</text><text transform="translate(384.37 344.25) scale(1 0.950)">0.38</text><text transform="translate(396.23 344.25) scale(1 0.950)">0.14</text><text transform="translate(408.09 344.25) scale(1 0.950)">0.36</text><text transform="translate(419.95 344.25) scale(1 0.950)">0.11</text><text transform="translate(431.81 344.25) scale(1 0.950)">0.12</text><text transform="translate(443.67 344.25) scale(1 0.950)">-0.12</text><text transform="translate(455.53 344.25) scale(1 0.950)">-0.84</text><text transform="translate(467.39 344.25) scale(1 0.950)">-0.36</text><text transform="translate(479.25 344.25) scale(1 0.950)">-0.15</text><text transform="translate(491.11 344.25) scale(1 0.950)">-0.41</text><text transform="translate(502.97 344.25) scale(1 0.950)">-0.11</text><text transform="translate(514.83 344.25) scale(1 0.950)">-0.1</text><text transform="translate(360.65 354.51) scale(1 0.950)">0.35</text><text transform="translate(372.51 354.51) scale(1 0.950)">0.23</text><text transform="translate(384.37 354.51) scale(1 0.950)">0.06</text><text transform="translate(396.23 354.51) scale(1 0.950)">0.36</text><text transform="translate(408.09 354.51) scale(1 0.950)">0.69</text><text transform="translate(419.95 354.51) scale(1 0.950)">0.45</text><text transform="translate(431.81 354.51) scale(1 0.950)">0.37</text><text transform="translate(443.67 354.51) scale(1 0.950)">-0.13</text><text transform="translate(455.53 354.51) scale(1 0.950)">-0.42</text><text transform="translate(467.39 354.51) scale(1 0.950)">-0.31</text><text transform="translate(479.25 354.51) scale(1 0.950)">-0.12</text><text transform="translate(491.11 354.51) scale(1 0.950)">-0.26</text><text transform="translate(502.97 354.51) scale(1 0.950)">-0.32</text><text transform="translate(514.83 354.51) scale(1 0.950)">-0.33</text><text transform="translate(348.79 364.77) scale(1 0.950)">0.7</text><text transform="translate(360.65 364.77) scale(1 0.950)">0.48</text><text transform="translate(372.51 364.77) scale(1 0.950)">0.27</text><text transform="translate(384.37 364.77) scale(1 0.950)">0.15</text><text transform="translate(396.23 364.77) scale(1 0.950)">0.15</text><text transform="translate(408.09 364.77) scale(1 0.950)">0.45</text><text transform="translate(419.95 364.77) scale(1 0.950)">0.13</text><text transform="translate(431.81 364.77) scale(1 0.950)">0.13</text><text transform="translate(443.67 364.77) scale(1 0.950)">-0.07</text><text transform="translate(455.53 364.77) scale(1 0.950)">-0.58</text><text transform="translate(467.39 364.77) scale(1 0.950)">-0.23</text><text transform="translate(479.25 364.77) scale(1 0.950)">-0.23</text><text transform="translate(491.11 364.77) scale(1 0.950)">-0.3</text><text transform="translate(502.97 364.77) scale(1 0.950)">-0.14</text><text transform="translate(514.83 364.77) scale(1 0.950)">-0.14</text><text transform="translate(336.93 375.03) scale(1 0.950)">0.67</text><text transform="translate(348.79 375.03) scale(1 0.950)">0.67</text><text transform="translate(360.65 375.03) scale(1 0.950)">0.3</text><text transform="translate(372.51 375.03) scale(1 0.950)">0.2</text><text transform="translate(384.37 375.03) scale(1 0.950)">0.02</text><text transform="translate(396.23 375.03) scale(1 0.950)">0.08</text><text transform="translate(408.09 375.03) scale(1 0.950)">0.62</text><text transform="translate(419.95 375.03) scale(1 0.950)">0.26</text><text transform="translate(431.81 375.03) scale(1 0.950)">0.22</text><text transform="translate(443.67 375.03) scale(1 0.950)">-0.06</text><text transform="translate(455.53 375.03) scale(1 0.950)">-0.41</text><text transform="translate(467.39 375.03) scale(1 0.950)">-0.43</text><text transform="translate(479.25 375.03) scale(1 0.950)">-0.25</text><text transform="translate(491.11 375.03) scale(1 0.950)">-0.39</text><text transform="translate(502.97 375.03) scale(1 0.950)">-0.33</text><text transform="translate(514.83 375.03) scale(1 0.950)">-0.34</text></g>
<g class="yl"><text transform="translate(327.60 220.83) scale(1 1.000)">LowWaterLevel</text><text transform="translate(327.60 231.09) scale(1 1.000)">Discharge</text><text transform="translate(327.60 241.35) scale(1 1.000)">Transparency</text><text transform="translate(327.60 251.61) scale(1 1.000)">Inflow</text><text transform="translate(327.60 261.87) scale(1 1.000)">Temperature</text><text transform="translate(327.60 272.13) scale(1 1.000)">Turbidity</text><text transform="translate(327.60 282.39) scale(1 1.000)">TOC</text><text transform="translate(327.60 292.65) scale(1 1.000)">COD</text><text transform="translate(327.60 302.91) scale(1 1.000)">BOD</text><text transform="translate(327.60 313.17) scale(1 1.000)">SS</text><text transform="translate(327.60 323.43) scale(1 1.000)">pH</text><text transform="translate(327.60 333.69) scale(1 1.000)">Chla</text><text transform="translate(327.60 343.95) scale(1 1.000)">DO</text><text transform="translate(327.60 354.21) scale(1 1.000)">TP</text><text transform="translate(327.60 364.47) scale(1 1.000)">TN</text><text transform="translate(327.60 374.73) scale(1 1.000)">EC</text></g>
<g class="xl"><text transform="translate(340.53 384.86) rotate(-40.0)">TN</text><text transform="translate(352.39 384.86) rotate(-40.0)">TP</text><text transform="translate(364.25 384.86) rotate(-40.0)">DO</text><text transform="translate(376.11 384.86) rotate(-40.0)">Chla</text><text transform="translate(387.97 384.86) rotate(-40.0)">pH</text><text transform="translate(399.83 384.86) rotate(-40.0)">SS</text><text transform="translate(411.69 384.86) rotate(-40.0)">BOD</text><text transform="translate(423.55 384.86) rotate(-40.0)">COD</text><text transform="translate(435.41 384.86) rotate(-40.0)">TOC</text><text transform="translate(447.27 384.86) rotate(-40.0)">Turbidity</text><text transform="translate(459.13 384.86) rotate(-40.0)">Temperature</text><text transform="translate(470.99 384.86) rotate(-40.0)">Inflow</text><text transform="translate(482.85 384.86) rotate(-40.0)">Transparency</text><text transform="translate(494.71 384.86) rotate(-40.0)">Discharge</text><text transform="translate(506.57 384.86) rotate(-40.0)">LowWaterLevel</text><text transform="translate(518.43 384.86) rotate(-40.0)">Reservoir</text></g>
<text class="lt" x="266.90" y="208.40">(d)</text>
<defs><linearGradient id="lg" x1="0" x2="1" y1="0" y2="0"><stop offset="0.0000" stop-color="#ff0000"/><stop offset="0.0250" stop-color="#ff2510"/><stop offset="0.0500" stop-color="#ff391e"/><stop offset="0.0750" stop-color="#ff482a"/><stop offset="0.1000" stop-color="#ff5635"/><stop offset="0.1250" stop-color="#ff6341"/><stop offset="0.1500" stop-color="#ff6e4d"/><stop offset="0.1750" stop-color="#ff7959"/><stop offset="0.2000" stop-color="#ff8464"/><stop offset="0.2250" stop-color="#ff8f70"/><stop offset="0.2500" stop-color="#ff9a7c"/><stop offset="0.2750" stop-color="#ffa488"/><stop offset="0.3000" stop-color="#ffae94"/><stop offset="0.3250" stop-color="#ffb9a2"/><stop offset="0.3500" stop-color="#ffc3ae"/><stop offset="0.3750" stop-color="#ffccbc"/><stop offset="0.4000" stop-color="#ffd7c8"/><stop offset="0.4250" stop-color="#ffe0d6"/><stop offset="0.4500" stop-color="#ffebe4"/><stop offset="0.4750" stop-color="#fff4f1"/><stop offset="0.5000" stop-color="#ffffff"/><stop offset="0.5250" stop-color="#f8f2ff"/><stop offset="0.5500" stop-color="#f0e6ff"/><stop offset="0.5750" stop-color="#e9d9fe"/><stop offset="0.6000" stop-color="#e1cdfe"/><stop offset="0.6250" stop-color="#d9c1fe"/><stop offset="0.6500" stop-color="#d1b4fd"/><stop offset="0.6750" stop-color="#c9a9fd"/><stop offset="0.7000" stop-color="#c09dfc"/><stop offset="0.7250" stop-color="#b891fb"/><stop offset="0.7500" stop-color="#ae85fb"/><stop offset="0.7750" stop-color="#a57afa"/><stop offset="0.8000" stop-color="#9b6ef9"/><stop offset="0.8250" stop-color="#9063f8"/><stop offset="0.8500" stop-color="#8657f7"/><stop offset="0.8750" stop-color="#7a4cf5"/><stop offset="0.9000" stop-color="#6e40f4"/><stop offset="0.9250" stop-color="#6033f3"/><stop offset="0.9500" stop-color="#5026f2"/><stop offset="0.9750" stop-color="#3c17f0"/><stop offset="1.0000" stop-color="#2000ef"/></linearGradient></defs>
<rect x="365.40" y="422.20" width="178.20" height="12.20" fill="url(#lg)"/>
<path d="M365.40 422.20V424.60M365.40 432.00V434.40M409.95 422.20V424.60M409.95 432.00V434.40M454.50 422.20V424.60M454.50 432.00V434.40M499.05 422.20V424.60M499.05 432.00V434.40M543.60 422.20V424.60M543.60 432.00V434.40" stroke="#fff" stroke-width="1.1"/>
<text class="lg" x="416.80" y="419.2">1.0</text>
<text class="lg" x="448.00" y="419.2">0.5</text>
<text class="lg" x="478.20" y="419.2">0</text>
<text class="lg" x="508.20" y="419.2">-0.5</text>
<text class="lg" x="534.50" y="419.2">-1</text>
</svg></body></html>
